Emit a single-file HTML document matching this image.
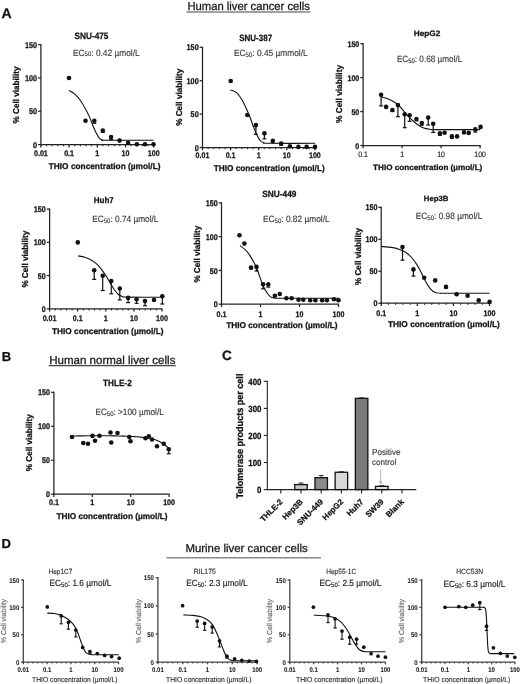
<!DOCTYPE html>
<html><head><meta charset="utf-8"><style>
html,body{margin:0;padding:0;background:#fff;}
svg{display:block;font-family:"Liberation Sans", sans-serif;filter:grayscale(1) blur(0.3px);text-rendering:geometricPrecision;}
</style></head><body>
<svg width="520" height="684" viewBox="0 0 520 684">
<rect width="520" height="684" fill="#fff"/>
<text x="187.40" y="9.80" font-size="11.56" fill="#1a1a1a" stroke="#1a1a1a" stroke-width="0.3" textLength="122.60" lengthAdjust="spacingAndGlyphs">Human liver cancer cells</text>
<line x1="186.50" y1="12.00" x2="310.50" y2="12.00" stroke="#444" stroke-width="1.2"/>
<text x="1.40" y="18.30" font-size="14" fill="#111" stroke="#111" stroke-width="0.25" font-weight="bold">A</text>
<line x1="40.90" y1="43.98" x2="40.90" y2="145.22" stroke="#222" stroke-width="1.25"/>
<line x1="40.27" y1="144.60" x2="154.20" y2="144.60" stroke="#222" stroke-width="1.25"/>
<line x1="38.10" y1="144.60" x2="40.90" y2="144.60" stroke="#222" stroke-width="1.25"/>
<text x="37.10" y="147.79" font-size="8.36" fill="#111" stroke="#111" stroke-width="0.25" font-weight="bold" text-anchor="end" textLength="4.06" lengthAdjust="spacingAndGlyphs">0</text>
<line x1="38.10" y1="111.27" x2="40.90" y2="111.27" stroke="#222" stroke-width="1.25"/>
<text x="37.10" y="114.46" font-size="8.36" fill="#111" stroke="#111" stroke-width="0.25" font-weight="bold" text-anchor="end" textLength="8.12" lengthAdjust="spacingAndGlyphs">50</text>
<line x1="38.10" y1="77.93" x2="40.90" y2="77.93" stroke="#222" stroke-width="1.25"/>
<text x="37.10" y="81.13" font-size="8.36" fill="#111" stroke="#111" stroke-width="0.25" font-weight="bold" text-anchor="end" textLength="12.17" lengthAdjust="spacingAndGlyphs">100</text>
<line x1="38.10" y1="44.60" x2="40.90" y2="44.60" stroke="#222" stroke-width="1.25"/>
<text x="37.10" y="47.79" font-size="8.36" fill="#111" stroke="#111" stroke-width="0.25" font-weight="bold" text-anchor="end" textLength="12.17" lengthAdjust="spacingAndGlyphs">150</text>
<line x1="40.90" y1="144.60" x2="40.90" y2="147.40" stroke="#222" stroke-width="1.25"/>
<text x="40.90" y="156.00" font-size="8.14" fill="#111" stroke="#111" stroke-width="0.25" font-weight="bold" text-anchor="middle" textLength="13.83" lengthAdjust="spacingAndGlyphs">0.01</text>
<line x1="46.54" y1="144.60" x2="46.54" y2="146.28" stroke="#222" stroke-width="1.0"/>
<line x1="52.18" y1="144.60" x2="52.18" y2="146.28" stroke="#222" stroke-width="1.0"/>
<line x1="57.82" y1="144.60" x2="57.82" y2="146.28" stroke="#222" stroke-width="1.0"/>
<line x1="63.46" y1="144.60" x2="63.46" y2="146.28" stroke="#222" stroke-width="1.0"/>
<line x1="69.10" y1="144.60" x2="69.10" y2="147.40" stroke="#222" stroke-width="1.25"/>
<text x="69.10" y="156.00" font-size="8.14" fill="#111" stroke="#111" stroke-width="0.25" font-weight="bold" text-anchor="middle" textLength="9.88" lengthAdjust="spacingAndGlyphs">0.1</text>
<line x1="74.74" y1="144.60" x2="74.74" y2="146.28" stroke="#222" stroke-width="1.0"/>
<line x1="80.38" y1="144.60" x2="80.38" y2="146.28" stroke="#222" stroke-width="1.0"/>
<line x1="86.02" y1="144.60" x2="86.02" y2="146.28" stroke="#222" stroke-width="1.0"/>
<line x1="91.66" y1="144.60" x2="91.66" y2="146.28" stroke="#222" stroke-width="1.0"/>
<line x1="97.30" y1="144.60" x2="97.30" y2="147.40" stroke="#222" stroke-width="1.25"/>
<text x="97.30" y="156.00" font-size="8.14" fill="#111" stroke="#111" stroke-width="0.25" font-weight="bold" text-anchor="middle" textLength="3.95" lengthAdjust="spacingAndGlyphs">1</text>
<line x1="102.94" y1="144.60" x2="102.94" y2="146.28" stroke="#222" stroke-width="1.0"/>
<line x1="108.58" y1="144.60" x2="108.58" y2="146.28" stroke="#222" stroke-width="1.0"/>
<line x1="114.22" y1="144.60" x2="114.22" y2="146.28" stroke="#222" stroke-width="1.0"/>
<line x1="119.86" y1="144.60" x2="119.86" y2="146.28" stroke="#222" stroke-width="1.0"/>
<line x1="125.50" y1="144.60" x2="125.50" y2="147.40" stroke="#222" stroke-width="1.25"/>
<text x="125.50" y="156.00" font-size="8.14" fill="#111" stroke="#111" stroke-width="0.25" font-weight="bold" text-anchor="middle" textLength="7.90" lengthAdjust="spacingAndGlyphs">10</text>
<line x1="131.14" y1="144.60" x2="131.14" y2="146.28" stroke="#222" stroke-width="1.0"/>
<line x1="136.78" y1="144.60" x2="136.78" y2="146.28" stroke="#222" stroke-width="1.0"/>
<line x1="142.42" y1="144.60" x2="142.42" y2="146.28" stroke="#222" stroke-width="1.0"/>
<line x1="148.06" y1="144.60" x2="148.06" y2="146.28" stroke="#222" stroke-width="1.0"/>
<line x1="153.70" y1="144.60" x2="153.70" y2="147.40" stroke="#222" stroke-width="1.25"/>
<text x="153.70" y="156.00" font-size="8.14" fill="#111" stroke="#111" stroke-width="0.25" font-weight="bold" text-anchor="middle" textLength="11.85" lengthAdjust="spacingAndGlyphs">100</text>
<text x="74.50" y="38.80" font-size="9.2" fill="#111" stroke="#111" stroke-width="0.25" font-weight="bold" textLength="33.90" lengthAdjust="spacingAndGlyphs">SNU-475</text>
<text x="73.00" y="55.50" font-size="9.1" fill="#3a3a3a" stroke="#3a3a3a" stroke-width="0.15" textLength="66.60" lengthAdjust="spacingAndGlyphs">EC<tspan font-size="6.55" dy="0.94">50</tspan><tspan dy="-0.94">: 0.42 µmol/L</tspan></text>
<text x="19.50" y="123.40" font-size="8.56" fill="#111" stroke="#111" stroke-width="0.25" font-weight="bold" textLength="56.80" lengthAdjust="spacingAndGlyphs" transform="rotate(-90 19.50 123.40)">% Cell viability</text>
<text x="48.75" y="169.25" font-size="8.45" fill="#111" stroke="#111" stroke-width="0.25" font-weight="bold" textLength="111.75" lengthAdjust="spacingAndGlyphs">THIO concentration (µmol/L)</text>
<path d="M68.90,90.40 C69.88,91.03 72.92,92.57 74.80,94.20 C76.68,95.83 78.42,97.73 80.20,100.20 C81.98,102.67 83.93,106.18 85.50,109.00 C87.07,111.82 88.37,114.30 89.60,117.10 C90.83,119.90 91.78,123.12 92.90,125.80 C94.02,128.48 95.17,131.07 96.30,133.20 C97.43,135.33 98.58,137.43 99.70,138.60 C100.82,139.77 101.95,139.92 103.00,140.20 C104.05,140.48 97.57,140.28 106.00,140.30 C114.43,140.32 145.67,140.30 153.60,140.30" fill="none" stroke="#111" stroke-width="1.1"/>
<circle cx="69.00" cy="78.00" r="2.3" fill="#111"/>
<circle cx="85.50" cy="120.70" r="2.3" fill="#111"/>
<line x1="94.30" y1="120.70" x2="94.30" y2="123.30" stroke="#111" stroke-width="1.2"/>
<line x1="92.30" y1="123.30" x2="96.30" y2="123.30" stroke="#111" stroke-width="1.2"/>
<circle cx="94.30" cy="120.70" r="2.3" fill="#111"/>
<line x1="102.80" y1="130.50" x2="102.80" y2="132.30" stroke="#111" stroke-width="1.2"/>
<line x1="100.80" y1="132.30" x2="104.80" y2="132.30" stroke="#111" stroke-width="1.2"/>
<circle cx="102.80" cy="130.50" r="2.3" fill="#111"/>
<line x1="111.10" y1="137.00" x2="111.10" y2="139.50" stroke="#111" stroke-width="1.2"/>
<line x1="109.10" y1="139.50" x2="113.10" y2="139.50" stroke="#111" stroke-width="1.2"/>
<circle cx="111.10" cy="137.00" r="2.3" fill="#111"/>
<circle cx="119.50" cy="140.60" r="2.3" fill="#111"/>
<line x1="128.10" y1="142.90" x2="128.10" y2="144.20" stroke="#111" stroke-width="1.2"/>
<line x1="126.10" y1="144.20" x2="130.10" y2="144.20" stroke="#111" stroke-width="1.2"/>
<circle cx="128.10" cy="142.90" r="2.3" fill="#111"/>
<circle cx="136.80" cy="144.30" r="2.3" fill="#111"/>
<circle cx="145.00" cy="144.30" r="2.3" fill="#111"/>
<circle cx="153.50" cy="144.30" r="2.3" fill="#111"/>
<line x1="202.50" y1="46.67" x2="202.50" y2="148.12" stroke="#222" stroke-width="1.25"/>
<line x1="201.88" y1="147.50" x2="315.40" y2="147.50" stroke="#222" stroke-width="1.25"/>
<line x1="199.70" y1="147.50" x2="202.50" y2="147.50" stroke="#222" stroke-width="1.25"/>
<text x="198.70" y="150.69" font-size="8.36" fill="#111" stroke="#111" stroke-width="0.25" font-weight="bold" text-anchor="end" textLength="4.06" lengthAdjust="spacingAndGlyphs">0</text>
<line x1="199.70" y1="114.10" x2="202.50" y2="114.10" stroke="#222" stroke-width="1.25"/>
<text x="198.70" y="117.29" font-size="8.36" fill="#111" stroke="#111" stroke-width="0.25" font-weight="bold" text-anchor="end" textLength="8.12" lengthAdjust="spacingAndGlyphs">50</text>
<line x1="199.70" y1="80.70" x2="202.50" y2="80.70" stroke="#222" stroke-width="1.25"/>
<text x="198.70" y="83.89" font-size="8.36" fill="#111" stroke="#111" stroke-width="0.25" font-weight="bold" text-anchor="end" textLength="12.17" lengthAdjust="spacingAndGlyphs">100</text>
<line x1="199.70" y1="47.30" x2="202.50" y2="47.30" stroke="#222" stroke-width="1.25"/>
<text x="198.70" y="50.49" font-size="8.36" fill="#111" stroke="#111" stroke-width="0.25" font-weight="bold" text-anchor="end" textLength="12.17" lengthAdjust="spacingAndGlyphs">150</text>
<line x1="202.50" y1="147.50" x2="202.50" y2="150.30" stroke="#222" stroke-width="1.25"/>
<text x="202.50" y="158.40" font-size="8.14" fill="#111" stroke="#111" stroke-width="0.25" font-weight="bold" text-anchor="middle" textLength="13.83" lengthAdjust="spacingAndGlyphs">0.01</text>
<line x1="208.12" y1="147.50" x2="208.12" y2="149.18" stroke="#222" stroke-width="1.0"/>
<line x1="213.74" y1="147.50" x2="213.74" y2="149.18" stroke="#222" stroke-width="1.0"/>
<line x1="219.36" y1="147.50" x2="219.36" y2="149.18" stroke="#222" stroke-width="1.0"/>
<line x1="224.98" y1="147.50" x2="224.98" y2="149.18" stroke="#222" stroke-width="1.0"/>
<line x1="230.60" y1="147.50" x2="230.60" y2="150.30" stroke="#222" stroke-width="1.25"/>
<text x="230.60" y="158.40" font-size="8.14" fill="#111" stroke="#111" stroke-width="0.25" font-weight="bold" text-anchor="middle" textLength="9.88" lengthAdjust="spacingAndGlyphs">0.1</text>
<line x1="236.22" y1="147.50" x2="236.22" y2="149.18" stroke="#222" stroke-width="1.0"/>
<line x1="241.84" y1="147.50" x2="241.84" y2="149.18" stroke="#222" stroke-width="1.0"/>
<line x1="247.46" y1="147.50" x2="247.46" y2="149.18" stroke="#222" stroke-width="1.0"/>
<line x1="253.08" y1="147.50" x2="253.08" y2="149.18" stroke="#222" stroke-width="1.0"/>
<line x1="258.70" y1="147.50" x2="258.70" y2="150.30" stroke="#222" stroke-width="1.25"/>
<text x="258.70" y="158.40" font-size="8.14" fill="#111" stroke="#111" stroke-width="0.25" font-weight="bold" text-anchor="middle" textLength="3.95" lengthAdjust="spacingAndGlyphs">1</text>
<line x1="264.32" y1="147.50" x2="264.32" y2="149.18" stroke="#222" stroke-width="1.0"/>
<line x1="269.94" y1="147.50" x2="269.94" y2="149.18" stroke="#222" stroke-width="1.0"/>
<line x1="275.56" y1="147.50" x2="275.56" y2="149.18" stroke="#222" stroke-width="1.0"/>
<line x1="281.18" y1="147.50" x2="281.18" y2="149.18" stroke="#222" stroke-width="1.0"/>
<line x1="286.80" y1="147.50" x2="286.80" y2="150.30" stroke="#222" stroke-width="1.25"/>
<text x="286.80" y="158.40" font-size="8.14" fill="#111" stroke="#111" stroke-width="0.25" font-weight="bold" text-anchor="middle" textLength="7.90" lengthAdjust="spacingAndGlyphs">10</text>
<line x1="292.42" y1="147.50" x2="292.42" y2="149.18" stroke="#222" stroke-width="1.0"/>
<line x1="298.04" y1="147.50" x2="298.04" y2="149.18" stroke="#222" stroke-width="1.0"/>
<line x1="303.66" y1="147.50" x2="303.66" y2="149.18" stroke="#222" stroke-width="1.0"/>
<line x1="309.28" y1="147.50" x2="309.28" y2="149.18" stroke="#222" stroke-width="1.0"/>
<line x1="314.90" y1="147.50" x2="314.90" y2="150.30" stroke="#222" stroke-width="1.25"/>
<text x="314.90" y="158.40" font-size="8.14" fill="#111" stroke="#111" stroke-width="0.25" font-weight="bold" text-anchor="middle" textLength="11.85" lengthAdjust="spacingAndGlyphs">100</text>
<text x="239.20" y="41.00" font-size="9.2" fill="#111" stroke="#111" stroke-width="0.25" font-weight="bold" textLength="32.90" lengthAdjust="spacingAndGlyphs">SNU-387</text>
<text x="234.00" y="56.00" font-size="9.1" fill="#3a3a3a" stroke="#3a3a3a" stroke-width="0.15" textLength="73.70" lengthAdjust="spacingAndGlyphs">EC<tspan font-size="6.55" dy="0.94">50</tspan><tspan dy="-0.94">: 0.45 µmmol/L</tspan></text>
<text x="181.60" y="125.80" font-size="8.56" fill="#111" stroke="#111" stroke-width="0.25" font-weight="bold" textLength="57.00" lengthAdjust="spacingAndGlyphs" transform="rotate(-90 181.60 125.80)">% Cell viability</text>
<text x="213.75" y="170.80" font-size="8.45" fill="#111" stroke="#111" stroke-width="0.25" font-weight="bold" textLength="110.95" lengthAdjust="spacingAndGlyphs">THIO concentration (µmol/L)</text>
<path d="M230.40,89.90 C231.47,90.38 234.83,91.08 236.80,92.80 C238.77,94.52 240.63,97.62 242.20,100.20 C243.77,102.78 244.87,105.38 246.20,108.30 C247.53,111.22 248.97,114.57 250.20,117.70 C251.43,120.83 252.47,124.18 253.60,127.10 C254.73,130.02 255.88,132.95 257.00,135.20 C258.12,137.45 259.07,139.32 260.30,140.60 C261.53,141.88 263.12,142.45 264.40,142.90 C265.68,143.35 259.53,143.23 268.00,143.30 C276.47,143.37 307.33,143.30 315.20,143.30" fill="none" stroke="#111" stroke-width="1.1"/>
<circle cx="230.70" cy="81.00" r="2.3" fill="#111"/>
<circle cx="247.30" cy="115.00" r="2.3" fill="#111"/>
<line x1="255.90" y1="125.10" x2="255.90" y2="134.30" stroke="#111" stroke-width="1.2"/>
<line x1="253.90" y1="134.30" x2="257.90" y2="134.30" stroke="#111" stroke-width="1.2"/>
<circle cx="255.90" cy="125.10" r="2.3" fill="#111"/>
<line x1="264.40" y1="133.20" x2="264.40" y2="138.80" stroke="#111" stroke-width="1.2"/>
<line x1="262.40" y1="138.80" x2="266.40" y2="138.80" stroke="#111" stroke-width="1.2"/>
<circle cx="264.40" cy="133.20" r="2.3" fill="#111"/>
<circle cx="272.80" cy="140.90" r="2.3" fill="#111"/>
<line x1="281.20" y1="143.60" x2="281.20" y2="145.30" stroke="#111" stroke-width="1.2"/>
<line x1="279.20" y1="145.30" x2="283.20" y2="145.30" stroke="#111" stroke-width="1.2"/>
<circle cx="281.20" cy="143.60" r="2.3" fill="#111"/>
<circle cx="289.90" cy="146.30" r="2.3" fill="#111"/>
<circle cx="298.40" cy="146.90" r="2.3" fill="#111"/>
<circle cx="306.60" cy="146.90" r="2.3" fill="#111"/>
<circle cx="315.00" cy="146.90" r="2.3" fill="#111"/>
<line x1="363.10" y1="43.12" x2="363.10" y2="146.12" stroke="#222" stroke-width="1.25"/>
<line x1="362.48" y1="145.50" x2="480.60" y2="145.50" stroke="#222" stroke-width="1.25"/>
<line x1="360.30" y1="145.50" x2="363.10" y2="145.50" stroke="#222" stroke-width="1.25"/>
<text x="359.30" y="148.61" font-size="8.14" fill="#111" stroke="#111" stroke-width="0.25" font-weight="bold" text-anchor="end" textLength="3.95" lengthAdjust="spacingAndGlyphs">0</text>
<line x1="360.30" y1="111.58" x2="363.10" y2="111.58" stroke="#222" stroke-width="1.25"/>
<text x="359.30" y="114.69" font-size="8.14" fill="#111" stroke="#111" stroke-width="0.25" font-weight="bold" text-anchor="end" textLength="7.90" lengthAdjust="spacingAndGlyphs">50</text>
<line x1="360.30" y1="77.67" x2="363.10" y2="77.67" stroke="#222" stroke-width="1.25"/>
<text x="359.30" y="80.77" font-size="8.14" fill="#111" stroke="#111" stroke-width="0.25" font-weight="bold" text-anchor="end" textLength="11.85" lengthAdjust="spacingAndGlyphs">100</text>
<line x1="360.30" y1="43.75" x2="363.10" y2="43.75" stroke="#222" stroke-width="1.25"/>
<text x="359.30" y="46.86" font-size="8.14" fill="#111" stroke="#111" stroke-width="0.25" font-weight="bold" text-anchor="end" textLength="11.85" lengthAdjust="spacingAndGlyphs">150</text>
<line x1="363.10" y1="145.50" x2="363.10" y2="148.30" stroke="#222" stroke-width="1.25"/>
<text x="363.10" y="157.00" font-size="7.92" fill="#111" stroke="#111" stroke-width="0.15" text-anchor="middle" textLength="9.61" lengthAdjust="spacingAndGlyphs">0.1</text>
<line x1="402.10" y1="145.50" x2="402.10" y2="148.30" stroke="#222" stroke-width="1.25"/>
<text x="402.10" y="157.00" font-size="7.92" fill="#111" stroke="#111" stroke-width="0.15" text-anchor="middle" textLength="3.84" lengthAdjust="spacingAndGlyphs">1</text>
<line x1="441.10" y1="145.50" x2="441.10" y2="148.30" stroke="#222" stroke-width="1.25"/>
<text x="441.10" y="157.00" font-size="7.92" fill="#111" stroke="#111" stroke-width="0.15" text-anchor="middle" textLength="7.69" lengthAdjust="spacingAndGlyphs">10</text>
<line x1="480.10" y1="145.50" x2="480.10" y2="148.30" stroke="#222" stroke-width="1.25"/>
<text x="480.10" y="157.00" font-size="7.92" fill="#111" stroke="#111" stroke-width="0.15" text-anchor="middle" textLength="11.53" lengthAdjust="spacingAndGlyphs">100</text>
<text x="413.80" y="35.80" font-size="7.81" fill="#111" stroke="#111" stroke-width="0.25" font-weight="bold" textLength="26.50" lengthAdjust="spacingAndGlyphs">HepG2</text>
<text x="396.90" y="61.90" font-size="9.1" fill="#3a3a3a" stroke="#3a3a3a" stroke-width="0.15" textLength="65.40" lengthAdjust="spacingAndGlyphs">EC<tspan font-size="6.55" dy="0.94">50</tspan><tspan dy="-0.94">: 0.68 µmol/L</tspan></text>
<text x="341.50" y="123.00" font-size="8.56" fill="#111" stroke="#111" stroke-width="0.25" font-weight="bold" textLength="58.00" lengthAdjust="spacingAndGlyphs" transform="rotate(-90 341.50 123.00)">% Cell viability</text>
<text x="373.10" y="170.40" font-size="7.92" fill="#111" stroke="#111" stroke-width="0.25" font-weight="bold" textLength="109.20" lengthAdjust="spacingAndGlyphs">THIO concentration (µmol/L)</text>
<path d="M381.20,96.80 C382.58,97.25 386.78,98.27 389.50,99.50 C392.22,100.73 395.27,102.42 397.50,104.20 C399.73,105.98 400.88,107.97 402.90,110.20 C404.92,112.43 407.35,115.35 409.60,117.60 C411.85,119.85 414.15,122.02 416.40,123.70 C418.65,125.38 420.87,126.77 423.10,127.70 C425.33,128.63 427.65,128.98 429.80,129.30 C431.95,129.62 427.62,129.55 436.00,129.60 C444.38,129.65 472.75,129.60 480.10,129.60" fill="none" stroke="#111" stroke-width="1.1"/>
<line x1="381.10" y1="94.70" x2="381.10" y2="105.90" stroke="#111" stroke-width="1.2"/>
<line x1="379.10" y1="105.90" x2="383.10" y2="105.90" stroke="#111" stroke-width="1.2"/>
<circle cx="381.10" cy="94.70" r="2.3" fill="#111"/>
<circle cx="386.10" cy="106.90" r="2.3" fill="#111"/>
<line x1="392.40" y1="110.00" x2="392.40" y2="111.50" stroke="#111" stroke-width="1.2"/>
<line x1="390.40" y1="111.50" x2="394.40" y2="111.50" stroke="#111" stroke-width="1.2"/>
<circle cx="392.40" cy="110.00" r="2.3" fill="#111"/>
<line x1="397.90" y1="105.10" x2="397.90" y2="116.70" stroke="#111" stroke-width="1.2"/>
<line x1="395.90" y1="116.70" x2="399.90" y2="116.70" stroke="#111" stroke-width="1.2"/>
<circle cx="397.90" cy="105.10" r="2.3" fill="#111"/>
<line x1="404.70" y1="114.30" x2="404.70" y2="127.70" stroke="#111" stroke-width="1.2"/>
<line x1="402.70" y1="127.70" x2="406.70" y2="127.70" stroke="#111" stroke-width="1.2"/>
<circle cx="404.70" cy="114.30" r="2.3" fill="#111"/>
<line x1="409.60" y1="115.30" x2="409.60" y2="121.30" stroke="#111" stroke-width="1.2"/>
<line x1="407.60" y1="121.30" x2="411.60" y2="121.30" stroke="#111" stroke-width="1.2"/>
<circle cx="409.60" cy="115.30" r="2.3" fill="#111"/>
<line x1="416.40" y1="119.00" x2="416.40" y2="120.80" stroke="#111" stroke-width="1.2"/>
<line x1="414.40" y1="120.80" x2="418.40" y2="120.80" stroke="#111" stroke-width="1.2"/>
<circle cx="416.40" cy="119.00" r="2.3" fill="#111"/>
<line x1="421.80" y1="123.00" x2="421.80" y2="125.20" stroke="#111" stroke-width="1.2"/>
<line x1="419.80" y1="125.20" x2="423.80" y2="125.20" stroke="#111" stroke-width="1.2"/>
<circle cx="421.80" cy="123.00" r="2.3" fill="#111"/>
<line x1="428.20" y1="117.60" x2="428.20" y2="125.00" stroke="#111" stroke-width="1.2"/>
<line x1="426.20" y1="125.00" x2="430.20" y2="125.00" stroke="#111" stroke-width="1.2"/>
<circle cx="428.20" cy="117.60" r="2.3" fill="#111"/>
<line x1="433.20" y1="123.70" x2="433.20" y2="132.40" stroke="#111" stroke-width="1.2"/>
<line x1="431.20" y1="132.40" x2="435.20" y2="132.40" stroke="#111" stroke-width="1.2"/>
<circle cx="433.20" cy="123.70" r="2.3" fill="#111"/>
<line x1="439.90" y1="133.40" x2="439.90" y2="135.30" stroke="#111" stroke-width="1.2"/>
<line x1="437.90" y1="135.30" x2="441.90" y2="135.30" stroke="#111" stroke-width="1.2"/>
<circle cx="439.90" cy="133.40" r="2.3" fill="#111"/>
<circle cx="444.60" cy="132.80" r="2.3" fill="#111"/>
<line x1="451.90" y1="136.40" x2="451.90" y2="138.30" stroke="#111" stroke-width="1.2"/>
<line x1="449.90" y1="138.30" x2="453.90" y2="138.30" stroke="#111" stroke-width="1.2"/>
<circle cx="451.90" cy="136.40" r="2.3" fill="#111"/>
<circle cx="457.10" cy="136.40" r="2.3" fill="#111"/>
<circle cx="464.00" cy="132.40" r="2.3" fill="#111"/>
<circle cx="468.70" cy="132.90" r="2.3" fill="#111"/>
<line x1="475.30" y1="129.40" x2="475.30" y2="132.00" stroke="#111" stroke-width="1.2"/>
<line x1="473.30" y1="132.00" x2="477.30" y2="132.00" stroke="#111" stroke-width="1.2"/>
<circle cx="475.30" cy="129.40" r="2.3" fill="#111"/>
<circle cx="480.60" cy="126.90" r="2.3" fill="#111"/>
<line x1="49.60" y1="208.47" x2="49.60" y2="309.43" stroke="#222" stroke-width="1.25"/>
<line x1="48.98" y1="308.80" x2="162.50" y2="308.80" stroke="#222" stroke-width="1.25"/>
<line x1="46.80" y1="308.80" x2="49.60" y2="308.80" stroke="#222" stroke-width="1.25"/>
<text x="45.80" y="311.95" font-size="8.25" fill="#111" stroke="#111" stroke-width="0.25" font-weight="bold" text-anchor="end" textLength="4.00" lengthAdjust="spacingAndGlyphs">0</text>
<line x1="46.80" y1="275.57" x2="49.60" y2="275.57" stroke="#222" stroke-width="1.25"/>
<text x="45.80" y="278.72" font-size="8.25" fill="#111" stroke="#111" stroke-width="0.25" font-weight="bold" text-anchor="end" textLength="8.01" lengthAdjust="spacingAndGlyphs">50</text>
<line x1="46.80" y1="242.33" x2="49.60" y2="242.33" stroke="#222" stroke-width="1.25"/>
<text x="45.80" y="245.48" font-size="8.25" fill="#111" stroke="#111" stroke-width="0.25" font-weight="bold" text-anchor="end" textLength="12.01" lengthAdjust="spacingAndGlyphs">100</text>
<line x1="46.80" y1="209.10" x2="49.60" y2="209.10" stroke="#222" stroke-width="1.25"/>
<text x="45.80" y="212.25" font-size="8.25" fill="#111" stroke="#111" stroke-width="0.25" font-weight="bold" text-anchor="end" textLength="12.01" lengthAdjust="spacingAndGlyphs">150</text>
<line x1="49.60" y1="308.80" x2="49.60" y2="311.60" stroke="#222" stroke-width="1.25"/>
<text x="49.60" y="320.50" font-size="8.14" fill="#111" stroke="#111" stroke-width="0.25" font-weight="bold" text-anchor="middle" textLength="13.83" lengthAdjust="spacingAndGlyphs">0.01</text>
<line x1="55.22" y1="308.80" x2="55.22" y2="310.48" stroke="#222" stroke-width="1.0"/>
<line x1="60.84" y1="308.80" x2="60.84" y2="310.48" stroke="#222" stroke-width="1.0"/>
<line x1="66.46" y1="308.80" x2="66.46" y2="310.48" stroke="#222" stroke-width="1.0"/>
<line x1="72.08" y1="308.80" x2="72.08" y2="310.48" stroke="#222" stroke-width="1.0"/>
<line x1="77.70" y1="308.80" x2="77.70" y2="311.60" stroke="#222" stroke-width="1.25"/>
<text x="77.70" y="320.50" font-size="8.14" fill="#111" stroke="#111" stroke-width="0.25" font-weight="bold" text-anchor="middle" textLength="9.88" lengthAdjust="spacingAndGlyphs">0.1</text>
<line x1="83.32" y1="308.80" x2="83.32" y2="310.48" stroke="#222" stroke-width="1.0"/>
<line x1="88.94" y1="308.80" x2="88.94" y2="310.48" stroke="#222" stroke-width="1.0"/>
<line x1="94.56" y1="308.80" x2="94.56" y2="310.48" stroke="#222" stroke-width="1.0"/>
<line x1="100.18" y1="308.80" x2="100.18" y2="310.48" stroke="#222" stroke-width="1.0"/>
<line x1="105.80" y1="308.80" x2="105.80" y2="311.60" stroke="#222" stroke-width="1.25"/>
<text x="105.80" y="320.50" font-size="8.14" fill="#111" stroke="#111" stroke-width="0.25" font-weight="bold" text-anchor="middle" textLength="3.95" lengthAdjust="spacingAndGlyphs">1</text>
<line x1="111.42" y1="308.80" x2="111.42" y2="310.48" stroke="#222" stroke-width="1.0"/>
<line x1="117.04" y1="308.80" x2="117.04" y2="310.48" stroke="#222" stroke-width="1.0"/>
<line x1="122.66" y1="308.80" x2="122.66" y2="310.48" stroke="#222" stroke-width="1.0"/>
<line x1="128.28" y1="308.80" x2="128.28" y2="310.48" stroke="#222" stroke-width="1.0"/>
<line x1="133.90" y1="308.80" x2="133.90" y2="311.60" stroke="#222" stroke-width="1.25"/>
<text x="133.90" y="320.50" font-size="8.14" fill="#111" stroke="#111" stroke-width="0.25" font-weight="bold" text-anchor="middle" textLength="7.90" lengthAdjust="spacingAndGlyphs">10</text>
<line x1="139.52" y1="308.80" x2="139.52" y2="310.48" stroke="#222" stroke-width="1.0"/>
<line x1="145.14" y1="308.80" x2="145.14" y2="310.48" stroke="#222" stroke-width="1.0"/>
<line x1="150.76" y1="308.80" x2="150.76" y2="310.48" stroke="#222" stroke-width="1.0"/>
<line x1="156.38" y1="308.80" x2="156.38" y2="310.48" stroke="#222" stroke-width="1.0"/>
<line x1="162.00" y1="308.80" x2="162.00" y2="311.60" stroke="#222" stroke-width="1.25"/>
<text x="162.00" y="320.50" font-size="8.14" fill="#111" stroke="#111" stroke-width="0.25" font-weight="bold" text-anchor="middle" textLength="11.85" lengthAdjust="spacingAndGlyphs">100</text>
<text x="93.80" y="202.60" font-size="8.56" fill="#111" stroke="#111" stroke-width="0.25" font-weight="bold" textLength="20.00" lengthAdjust="spacingAndGlyphs">Huh7</text>
<text x="92.20" y="222.30" font-size="9.1" fill="#3a3a3a" stroke="#3a3a3a" stroke-width="0.15" textLength="66.30" lengthAdjust="spacingAndGlyphs">EC<tspan font-size="6.55" dy="0.94">50</tspan><tspan dy="-0.94">: 0.74 µmol/L</tspan></text>
<text x="28.40" y="287.60" font-size="8.56" fill="#111" stroke="#111" stroke-width="0.25" font-weight="bold" textLength="56.80" lengthAdjust="spacingAndGlyphs" transform="rotate(-90 28.40 287.60)">% Cell viability</text>
<text x="52.00" y="333.50" font-size="8.45" fill="#111" stroke="#111" stroke-width="0.25" font-weight="bold" textLength="111.50" lengthAdjust="spacingAndGlyphs">THIO concentration (µmol/L)</text>
<path d="M78.00,255.90 C79.13,256.12 82.55,256.48 84.80,257.20 C87.05,257.92 89.48,259.03 91.50,260.20 C93.52,261.37 95.22,262.63 96.90,264.20 C98.58,265.77 100.03,267.58 101.60,269.60 C103.17,271.62 104.85,274.05 106.30,276.30 C107.75,278.55 108.95,280.85 110.30,283.10 C111.65,285.35 113.05,287.90 114.40,289.80 C115.75,291.70 117.05,293.38 118.40,294.50 C119.75,295.62 121.07,296.07 122.50,296.50 C123.93,296.93 120.42,296.98 127.00,297.10 C133.58,297.22 156.17,297.18 162.00,297.20" fill="none" stroke="#111" stroke-width="1.1"/>
<circle cx="77.80" cy="242.40" r="2.3" fill="#111"/>
<line x1="94.20" y1="270.30" x2="94.20" y2="279.40" stroke="#111" stroke-width="1.2"/>
<line x1="92.20" y1="279.40" x2="96.20" y2="279.40" stroke="#111" stroke-width="1.2"/>
<circle cx="94.20" cy="270.30" r="2.3" fill="#111"/>
<line x1="102.70" y1="275.70" x2="102.70" y2="290.50" stroke="#111" stroke-width="1.2"/>
<line x1="100.70" y1="290.50" x2="104.70" y2="290.50" stroke="#111" stroke-width="1.2"/>
<circle cx="102.70" cy="275.70" r="2.3" fill="#111"/>
<line x1="111.30" y1="281.00" x2="111.30" y2="293.80" stroke="#111" stroke-width="1.2"/>
<line x1="109.30" y1="293.80" x2="113.30" y2="293.80" stroke="#111" stroke-width="1.2"/>
<circle cx="111.30" cy="281.00" r="2.3" fill="#111"/>
<line x1="119.80" y1="288.50" x2="119.80" y2="299.90" stroke="#111" stroke-width="1.2"/>
<line x1="117.80" y1="299.90" x2="121.80" y2="299.90" stroke="#111" stroke-width="1.2"/>
<circle cx="119.80" cy="288.50" r="2.3" fill="#111"/>
<line x1="128.10" y1="297.90" x2="128.10" y2="302.60" stroke="#111" stroke-width="1.2"/>
<line x1="126.10" y1="302.60" x2="130.10" y2="302.60" stroke="#111" stroke-width="1.2"/>
<circle cx="128.10" cy="297.90" r="2.3" fill="#111"/>
<line x1="136.60" y1="299.20" x2="136.60" y2="303.30" stroke="#111" stroke-width="1.2"/>
<line x1="134.60" y1="303.30" x2="138.60" y2="303.30" stroke="#111" stroke-width="1.2"/>
<circle cx="136.60" cy="299.20" r="2.3" fill="#111"/>
<line x1="145.00" y1="301.10" x2="145.00" y2="305.70" stroke="#111" stroke-width="1.2"/>
<line x1="143.00" y1="305.70" x2="147.00" y2="305.70" stroke="#111" stroke-width="1.2"/>
<circle cx="145.00" cy="301.10" r="2.3" fill="#111"/>
<circle cx="154.00" cy="300.00" r="2.3" fill="#111"/>
<line x1="162.30" y1="296.20" x2="162.30" y2="304.00" stroke="#111" stroke-width="1.2"/>
<line x1="160.30" y1="304.00" x2="164.30" y2="304.00" stroke="#111" stroke-width="1.2"/>
<circle cx="162.30" cy="296.20" r="2.3" fill="#111"/>
<line x1="221.50" y1="202.28" x2="221.50" y2="304.82" stroke="#222" stroke-width="1.25"/>
<line x1="220.88" y1="304.20" x2="339.00" y2="304.20" stroke="#222" stroke-width="1.25"/>
<line x1="218.70" y1="304.20" x2="221.50" y2="304.20" stroke="#222" stroke-width="1.25"/>
<text x="217.70" y="307.35" font-size="8.25" fill="#111" stroke="#111" stroke-width="0.25" font-weight="bold" text-anchor="end" textLength="4.00" lengthAdjust="spacingAndGlyphs">0</text>
<line x1="218.70" y1="270.43" x2="221.50" y2="270.43" stroke="#222" stroke-width="1.25"/>
<text x="217.70" y="273.58" font-size="8.25" fill="#111" stroke="#111" stroke-width="0.25" font-weight="bold" text-anchor="end" textLength="8.01" lengthAdjust="spacingAndGlyphs">50</text>
<line x1="218.70" y1="236.67" x2="221.50" y2="236.67" stroke="#222" stroke-width="1.25"/>
<text x="217.70" y="239.82" font-size="8.25" fill="#111" stroke="#111" stroke-width="0.25" font-weight="bold" text-anchor="end" textLength="12.01" lengthAdjust="spacingAndGlyphs">100</text>
<line x1="218.70" y1="202.90" x2="221.50" y2="202.90" stroke="#222" stroke-width="1.25"/>
<text x="217.70" y="206.05" font-size="8.25" fill="#111" stroke="#111" stroke-width="0.25" font-weight="bold" text-anchor="end" textLength="12.01" lengthAdjust="spacingAndGlyphs">150</text>
<line x1="221.50" y1="304.20" x2="221.50" y2="307.00" stroke="#222" stroke-width="1.25"/>
<text x="221.50" y="316.60" font-size="8.14" fill="#111" stroke="#111" stroke-width="0.25" font-weight="bold" text-anchor="middle" textLength="9.88" lengthAdjust="spacingAndGlyphs">0.1</text>
<line x1="260.50" y1="304.20" x2="260.50" y2="307.00" stroke="#222" stroke-width="1.25"/>
<text x="260.50" y="316.60" font-size="8.14" fill="#111" stroke="#111" stroke-width="0.25" font-weight="bold" text-anchor="middle" textLength="3.95" lengthAdjust="spacingAndGlyphs">1</text>
<line x1="299.50" y1="304.20" x2="299.50" y2="307.00" stroke="#222" stroke-width="1.25"/>
<text x="299.50" y="316.60" font-size="8.14" fill="#111" stroke="#111" stroke-width="0.25" font-weight="bold" text-anchor="middle" textLength="7.90" lengthAdjust="spacingAndGlyphs">10</text>
<line x1="338.50" y1="304.20" x2="338.50" y2="307.00" stroke="#222" stroke-width="1.25"/>
<text x="338.50" y="316.60" font-size="8.14" fill="#111" stroke="#111" stroke-width="0.25" font-weight="bold" text-anchor="middle" textLength="11.85" lengthAdjust="spacingAndGlyphs">100</text>
<text x="262.20" y="196.50" font-size="8.99" fill="#111" stroke="#111" stroke-width="0.25" font-weight="bold" textLength="34.20" lengthAdjust="spacingAndGlyphs">SNU-449</text>
<text x="263.00" y="222.40" font-size="9.1" fill="#3a3a3a" stroke="#3a3a3a" stroke-width="0.15" textLength="66.60" lengthAdjust="spacingAndGlyphs">EC<tspan font-size="6.55" dy="0.94">50</tspan><tspan dy="-0.94">: 0.82 µmol/L</tspan></text>
<text x="199.60" y="282.60" font-size="8.56" fill="#111" stroke="#111" stroke-width="0.25" font-weight="bold" textLength="56.80" lengthAdjust="spacingAndGlyphs" transform="rotate(-90 199.60 282.60)">% Cell viability</text>
<text x="226.25" y="328.10" font-size="8.45" fill="#111" stroke="#111" stroke-width="0.25" font-weight="bold" textLength="111.25" lengthAdjust="spacingAndGlyphs">THIO concentration (µmol/L)</text>
<path d="M240.00,245.60 C240.87,246.27 243.57,247.97 245.20,249.60 C246.83,251.23 248.25,253.08 249.80,255.40 C251.35,257.72 253.15,260.82 254.50,263.50 C255.85,266.18 256.85,268.82 257.90,271.50 C258.95,274.18 259.83,277.00 260.80,279.60 C261.77,282.20 262.65,284.88 263.70,287.10 C264.75,289.32 265.95,291.27 267.10,292.90 C268.25,294.53 269.25,296.05 270.60,296.90 C271.95,297.75 273.63,297.77 275.20,298.00 C276.77,298.23 269.30,298.25 280.00,298.30 C290.70,298.35 329.50,298.30 339.40,298.30" fill="none" stroke="#111" stroke-width="1.1"/>
<circle cx="239.50" cy="235.20" r="2.3" fill="#111"/>
<circle cx="244.40" cy="243.60" r="2.3" fill="#111"/>
<line x1="251.00" y1="267.50" x2="251.00" y2="269.00" stroke="#111" stroke-width="1.2"/>
<line x1="249.00" y1="269.00" x2="253.00" y2="269.00" stroke="#111" stroke-width="1.2"/>
<circle cx="251.00" cy="267.50" r="2.3" fill="#111"/>
<line x1="256.50" y1="266.90" x2="256.50" y2="271.00" stroke="#111" stroke-width="1.2"/>
<line x1="254.50" y1="271.00" x2="258.50" y2="271.00" stroke="#111" stroke-width="1.2"/>
<circle cx="256.50" cy="266.90" r="2.3" fill="#111"/>
<line x1="263.10" y1="284.20" x2="263.10" y2="288.80" stroke="#111" stroke-width="1.2"/>
<line x1="261.10" y1="288.80" x2="265.10" y2="288.80" stroke="#111" stroke-width="1.2"/>
<circle cx="263.10" cy="284.20" r="2.3" fill="#111"/>
<line x1="268.30" y1="284.20" x2="268.30" y2="287.10" stroke="#111" stroke-width="1.2"/>
<line x1="266.30" y1="287.10" x2="270.30" y2="287.10" stroke="#111" stroke-width="1.2"/>
<circle cx="268.30" cy="284.20" r="2.3" fill="#111"/>
<circle cx="274.90" cy="295.70" r="2.3" fill="#111"/>
<circle cx="279.80" cy="294.00" r="2.3" fill="#111"/>
<circle cx="286.40" cy="298.30" r="2.3" fill="#111"/>
<circle cx="291.60" cy="298.30" r="2.3" fill="#111"/>
<circle cx="298.50" cy="299.80" r="2.3" fill="#111"/>
<circle cx="303.30" cy="299.80" r="2.3" fill="#111"/>
<circle cx="310.20" cy="300.20" r="2.3" fill="#111"/>
<circle cx="315.40" cy="300.20" r="2.3" fill="#111"/>
<circle cx="322.10" cy="300.20" r="2.3" fill="#111"/>
<circle cx="326.90" cy="300.20" r="2.3" fill="#111"/>
<circle cx="334.00" cy="299.20" r="2.3" fill="#111"/>
<circle cx="338.50" cy="300.20" r="2.3" fill="#111"/>
<line x1="381.20" y1="206.68" x2="381.20" y2="303.82" stroke="#222" stroke-width="1.25"/>
<line x1="380.57" y1="303.20" x2="490.00" y2="303.20" stroke="#222" stroke-width="1.25"/>
<line x1="378.40" y1="303.20" x2="381.20" y2="303.20" stroke="#222" stroke-width="1.25"/>
<text x="377.40" y="306.35" font-size="8.25" fill="#111" stroke="#111" stroke-width="0.25" font-weight="bold" text-anchor="end" textLength="4.00" lengthAdjust="spacingAndGlyphs">0</text>
<line x1="378.40" y1="271.23" x2="381.20" y2="271.23" stroke="#222" stroke-width="1.25"/>
<text x="377.40" y="274.38" font-size="8.25" fill="#111" stroke="#111" stroke-width="0.25" font-weight="bold" text-anchor="end" textLength="8.01" lengthAdjust="spacingAndGlyphs">50</text>
<line x1="378.40" y1="239.27" x2="381.20" y2="239.27" stroke="#222" stroke-width="1.25"/>
<text x="377.40" y="242.42" font-size="8.25" fill="#111" stroke="#111" stroke-width="0.25" font-weight="bold" text-anchor="end" textLength="12.01" lengthAdjust="spacingAndGlyphs">100</text>
<line x1="378.40" y1="207.30" x2="381.20" y2="207.30" stroke="#222" stroke-width="1.25"/>
<text x="377.40" y="210.45" font-size="8.25" fill="#111" stroke="#111" stroke-width="0.25" font-weight="bold" text-anchor="end" textLength="12.01" lengthAdjust="spacingAndGlyphs">150</text>
<line x1="381.20" y1="303.20" x2="381.20" y2="306.00" stroke="#222" stroke-width="1.25"/>
<text x="381.20" y="315.50" font-size="8.14" fill="#111" stroke="#111" stroke-width="0.25" font-weight="bold" text-anchor="middle" textLength="9.88" lengthAdjust="spacingAndGlyphs">0.1</text>
<line x1="388.42" y1="303.20" x2="388.42" y2="304.88" stroke="#222" stroke-width="1.0"/>
<line x1="395.64" y1="303.20" x2="395.64" y2="304.88" stroke="#222" stroke-width="1.0"/>
<line x1="402.86" y1="303.20" x2="402.86" y2="304.88" stroke="#222" stroke-width="1.0"/>
<line x1="410.08" y1="303.20" x2="410.08" y2="304.88" stroke="#222" stroke-width="1.0"/>
<line x1="417.30" y1="303.20" x2="417.30" y2="306.00" stroke="#222" stroke-width="1.25"/>
<text x="417.30" y="315.50" font-size="8.14" fill="#111" stroke="#111" stroke-width="0.25" font-weight="bold" text-anchor="middle" textLength="3.95" lengthAdjust="spacingAndGlyphs">1</text>
<line x1="424.52" y1="303.20" x2="424.52" y2="304.88" stroke="#222" stroke-width="1.0"/>
<line x1="431.74" y1="303.20" x2="431.74" y2="304.88" stroke="#222" stroke-width="1.0"/>
<line x1="438.96" y1="303.20" x2="438.96" y2="304.88" stroke="#222" stroke-width="1.0"/>
<line x1="446.18" y1="303.20" x2="446.18" y2="304.88" stroke="#222" stroke-width="1.0"/>
<line x1="453.40" y1="303.20" x2="453.40" y2="306.00" stroke="#222" stroke-width="1.25"/>
<text x="453.40" y="315.50" font-size="8.14" fill="#111" stroke="#111" stroke-width="0.25" font-weight="bold" text-anchor="middle" textLength="7.90" lengthAdjust="spacingAndGlyphs">10</text>
<line x1="460.62" y1="303.20" x2="460.62" y2="304.88" stroke="#222" stroke-width="1.0"/>
<line x1="467.84" y1="303.20" x2="467.84" y2="304.88" stroke="#222" stroke-width="1.0"/>
<line x1="475.06" y1="303.20" x2="475.06" y2="304.88" stroke="#222" stroke-width="1.0"/>
<line x1="482.28" y1="303.20" x2="482.28" y2="304.88" stroke="#222" stroke-width="1.0"/>
<line x1="489.50" y1="303.20" x2="489.50" y2="306.00" stroke="#222" stroke-width="1.25"/>
<text x="489.50" y="315.50" font-size="8.14" fill="#111" stroke="#111" stroke-width="0.25" font-weight="bold" text-anchor="middle" textLength="11.85" lengthAdjust="spacingAndGlyphs">100</text>
<text x="423.80" y="201.00" font-size="7.49" fill="#111" stroke="#111" stroke-width="0.25" font-weight="bold" textLength="24.50" lengthAdjust="spacingAndGlyphs">Hep3B</text>
<text x="415.80" y="219.20" font-size="9.1" fill="#3a3a3a" stroke="#3a3a3a" stroke-width="0.15" textLength="66.50" lengthAdjust="spacingAndGlyphs">EC<tspan font-size="6.55" dy="0.94">50</tspan><tspan dy="-0.94">: 0.98 µmol/L</tspan></text>
<text x="361.30" y="285.00" font-size="8.56" fill="#111" stroke="#111" stroke-width="0.25" font-weight="bold" textLength="57.00" lengthAdjust="spacingAndGlyphs" transform="rotate(-90 361.30 285.00)">% Cell viability</text>
<text x="388.00" y="327.30" font-size="8.45" fill="#111" stroke="#111" stroke-width="0.25" font-weight="bold" textLength="111.80" lengthAdjust="spacingAndGlyphs">THIO concentration (µmol/L)</text>
<path d="M381.20,246.50 C382.92,246.65 388.45,246.90 391.50,247.40 C394.55,247.90 397.03,248.60 399.50,249.50 C401.97,250.40 404.28,251.47 406.30,252.80 C408.32,254.13 409.82,255.48 411.60,257.50 C413.38,259.52 415.42,262.43 417.00,264.90 C418.58,267.37 419.75,269.72 421.10,272.30 C422.45,274.88 423.77,277.93 425.10,280.40 C426.43,282.87 427.75,285.25 429.10,287.10 C430.45,288.95 431.62,290.48 433.20,291.50 C434.78,292.52 436.80,292.90 438.60,293.20 C440.40,293.50 435.52,293.28 444.00,293.30 C452.48,293.32 481.92,293.30 489.50,293.30" fill="none" stroke="#111" stroke-width="1.1"/>
<line x1="402.50" y1="247.00" x2="402.50" y2="260.20" stroke="#111" stroke-width="1.2"/>
<line x1="400.50" y1="260.20" x2="404.50" y2="260.20" stroke="#111" stroke-width="1.2"/>
<circle cx="402.50" cy="247.00" r="2.3" fill="#111"/>
<line x1="413.40" y1="269.40" x2="413.40" y2="276.10" stroke="#111" stroke-width="1.2"/>
<line x1="411.40" y1="276.10" x2="415.40" y2="276.10" stroke="#111" stroke-width="1.2"/>
<circle cx="413.40" cy="269.40" r="2.3" fill="#111"/>
<circle cx="424.20" cy="277.70" r="2.3" fill="#111"/>
<circle cx="435.20" cy="280.40" r="2.3" fill="#111"/>
<line x1="446.00" y1="286.90" x2="446.00" y2="287.90" stroke="#111" stroke-width="1.2"/>
<line x1="444.00" y1="287.90" x2="448.00" y2="287.90" stroke="#111" stroke-width="1.2"/>
<circle cx="446.00" cy="286.90" r="2.3" fill="#111"/>
<circle cx="456.60" cy="294.20" r="2.3" fill="#111"/>
<circle cx="467.60" cy="295.80" r="2.3" fill="#111"/>
<circle cx="478.70" cy="300.40" r="2.3" fill="#111"/>
<circle cx="489.60" cy="301.90" r="2.3" fill="#111"/>
<line x1="53.90" y1="391.68" x2="53.90" y2="494.82" stroke="#222" stroke-width="1.25"/>
<line x1="53.27" y1="494.20" x2="169.60" y2="494.20" stroke="#222" stroke-width="1.25"/>
<line x1="51.10" y1="494.20" x2="53.90" y2="494.20" stroke="#222" stroke-width="1.25"/>
<text x="50.10" y="497.35" font-size="8.25" fill="#111" stroke="#111" stroke-width="0.25" font-weight="bold" text-anchor="end" textLength="4.00" lengthAdjust="spacingAndGlyphs">0</text>
<line x1="51.10" y1="460.23" x2="53.90" y2="460.23" stroke="#222" stroke-width="1.25"/>
<text x="50.10" y="463.38" font-size="8.25" fill="#111" stroke="#111" stroke-width="0.25" font-weight="bold" text-anchor="end" textLength="8.01" lengthAdjust="spacingAndGlyphs">50</text>
<line x1="51.10" y1="426.27" x2="53.90" y2="426.27" stroke="#222" stroke-width="1.25"/>
<text x="50.10" y="429.42" font-size="8.25" fill="#111" stroke="#111" stroke-width="0.25" font-weight="bold" text-anchor="end" textLength="12.01" lengthAdjust="spacingAndGlyphs">100</text>
<line x1="51.10" y1="392.30" x2="53.90" y2="392.30" stroke="#222" stroke-width="1.25"/>
<text x="50.10" y="395.45" font-size="8.25" fill="#111" stroke="#111" stroke-width="0.25" font-weight="bold" text-anchor="end" textLength="12.01" lengthAdjust="spacingAndGlyphs">150</text>
<line x1="53.90" y1="494.20" x2="53.90" y2="497.00" stroke="#222" stroke-width="1.25"/>
<text x="53.90" y="504.80" font-size="8.14" fill="#111" stroke="#111" stroke-width="0.25" font-weight="bold" text-anchor="middle" textLength="9.88" lengthAdjust="spacingAndGlyphs">0.1</text>
<line x1="92.30" y1="494.20" x2="92.30" y2="497.00" stroke="#222" stroke-width="1.25"/>
<text x="92.30" y="504.80" font-size="8.14" fill="#111" stroke="#111" stroke-width="0.25" font-weight="bold" text-anchor="middle" textLength="3.95" lengthAdjust="spacingAndGlyphs">1</text>
<line x1="130.70" y1="494.20" x2="130.70" y2="497.00" stroke="#222" stroke-width="1.25"/>
<text x="130.70" y="504.80" font-size="8.14" fill="#111" stroke="#111" stroke-width="0.25" font-weight="bold" text-anchor="middle" textLength="7.90" lengthAdjust="spacingAndGlyphs">10</text>
<line x1="169.10" y1="494.20" x2="169.10" y2="497.00" stroke="#222" stroke-width="1.25"/>
<text x="169.10" y="504.80" font-size="8.14" fill="#111" stroke="#111" stroke-width="0.25" font-weight="bold" text-anchor="middle" textLength="11.85" lengthAdjust="spacingAndGlyphs">100</text>
<text x="103.10" y="385.70" font-size="8.99" fill="#111" stroke="#111" stroke-width="0.25" font-weight="bold" textLength="28.60" lengthAdjust="spacingAndGlyphs">THLE-2</text>
<text x="95.40" y="414.60" font-size="9.1" fill="#3a3a3a" stroke="#3a3a3a" stroke-width="0.15" textLength="68.40" lengthAdjust="spacingAndGlyphs">EC<tspan font-size="6.55" dy="0.94">50</tspan><tspan dy="-0.94">: &gt;100 µmol/L</tspan></text>
<text x="32.30" y="471.20" font-size="8.56" fill="#111" stroke="#111" stroke-width="0.25" font-weight="bold" textLength="57.00" lengthAdjust="spacingAndGlyphs" transform="rotate(-90 32.30 471.20)">% Cell viability</text>
<text x="56.40" y="518.50" font-size="8.45" fill="#111" stroke="#111" stroke-width="0.25" font-weight="bold" textLength="111.10" lengthAdjust="spacingAndGlyphs">THIO concentration (µmol/L)</text>
<polyline points="72.00,435.99 72.81,435.98 73.61,435.97 74.42,435.96 75.23,435.95 76.03,435.94 76.84,435.93 77.65,435.92 78.45,435.90 79.26,435.89 80.07,435.88 80.87,435.87 81.68,435.86 82.49,435.85 83.29,435.84 84.10,435.83 84.91,435.82 85.71,435.81 86.52,435.80 87.33,435.79 88.13,435.78 88.94,435.77 89.75,435.76 90.55,435.76 91.36,435.75 92.17,435.74 92.97,435.74 93.78,435.73 94.59,435.73 95.39,435.73 96.20,435.72 97.01,435.72 97.81,435.72 98.62,435.72 99.43,435.72 100.23,435.72 101.04,435.73 101.85,435.73 102.65,435.73 103.46,435.74 104.27,435.75 105.07,435.75 105.88,435.76 106.69,435.77 107.49,435.78 108.30,435.79 109.11,435.80 109.91,435.81 110.72,435.82 111.53,435.84 112.33,435.85 113.14,435.87 113.95,435.88 114.75,435.90 115.56,435.92 116.37,435.94 117.17,435.95 117.98,435.97 118.79,435.99 119.59,436.02 120.40,436.04 121.21,436.06 122.01,436.09 122.82,436.11 123.63,436.14 124.43,436.16 125.24,436.19 126.05,436.22 126.85,436.25 127.66,436.28 128.47,436.32 129.27,436.35 130.08,436.39 130.89,436.42 131.69,436.46 132.50,436.51 133.31,436.55 134.11,436.60 134.92,436.65 135.73,436.70 136.53,436.75 137.34,436.81 138.15,436.87 138.95,436.94 139.76,437.01 140.57,437.08 141.37,437.16 142.18,437.24 142.99,437.33 143.79,437.43 144.60,437.53 145.41,437.64 146.21,437.76 147.02,437.88 147.83,438.02 148.63,438.16 149.44,438.32 150.25,438.48 151.05,438.66 151.86,438.85 152.67,439.06 153.47,439.28 154.28,439.52 155.09,439.78 155.89,440.05 156.70,440.35 157.51,440.66 158.31,441.01 159.12,441.37 159.93,441.77 160.73,442.20 161.54,442.65 162.35,443.15 163.15,443.68 163.96,444.25 164.77,444.86 165.57,445.52 166.38,446.23 167.19,446.99 167.99,447.81 168.80,448.70" fill="none" stroke="#111" stroke-width="1.1"/>
<circle cx="72.00" cy="437.00" r="2.3" fill="#111"/>
<circle cx="83.25" cy="443.00" r="2.3" fill="#111"/>
<circle cx="88.00" cy="443.75" r="2.3" fill="#111"/>
<circle cx="92.50" cy="435.90" r="2.3" fill="#111"/>
<circle cx="95.00" cy="440.75" r="2.3" fill="#111"/>
<circle cx="99.50" cy="435.75" r="2.3" fill="#111"/>
<circle cx="110.50" cy="432.50" r="2.3" fill="#111"/>
<circle cx="111.25" cy="442.50" r="2.3" fill="#111"/>
<circle cx="117.50" cy="433.00" r="2.3" fill="#111"/>
<circle cx="129.25" cy="437.00" r="2.3" fill="#111"/>
<circle cx="130.50" cy="441.25" r="2.3" fill="#111"/>
<circle cx="145.50" cy="438.25" r="2.3" fill="#111"/>
<circle cx="148.75" cy="436.25" r="2.3" fill="#111"/>
<circle cx="152.00" cy="439.50" r="2.3" fill="#111"/>
<circle cx="157.00" cy="446.25" r="2.3" fill="#111"/>
<circle cx="163.75" cy="443.75" r="2.3" fill="#111"/>
<line x1="168.75" y1="449.25" x2="168.75" y2="453.75" stroke="#111" stroke-width="1.2"/>
<line x1="166.75" y1="453.75" x2="170.75" y2="453.75" stroke="#111" stroke-width="1.2"/>
<circle cx="168.75" cy="449.25" r="2.3" fill="#111"/>
<line x1="23.30" y1="579.35" x2="23.30" y2="662.75" stroke="#444" stroke-width="1.3"/>
<line x1="22.65" y1="662.10" x2="119.00" y2="662.10" stroke="#444" stroke-width="1.3"/>
<line x1="21.10" y1="662.10" x2="23.30" y2="662.10" stroke="#444" stroke-width="1.3"/>
<text x="19.30" y="664.75" font-size="6.93" fill="#222" stroke="#222" stroke-width="0.08" font-weight="bold" text-anchor="end" textLength="3.36" lengthAdjust="spacingAndGlyphs">0</text>
<line x1="21.10" y1="634.73" x2="23.30" y2="634.73" stroke="#444" stroke-width="1.3"/>
<text x="19.30" y="637.38" font-size="6.93" fill="#222" stroke="#222" stroke-width="0.08" font-weight="bold" text-anchor="end" textLength="6.73" lengthAdjust="spacingAndGlyphs">50</text>
<line x1="21.10" y1="607.37" x2="23.30" y2="607.37" stroke="#444" stroke-width="1.3"/>
<text x="19.30" y="610.01" font-size="6.93" fill="#222" stroke="#222" stroke-width="0.08" font-weight="bold" text-anchor="end" textLength="10.09" lengthAdjust="spacingAndGlyphs">100</text>
<line x1="21.10" y1="580.00" x2="23.30" y2="580.00" stroke="#444" stroke-width="1.3"/>
<text x="19.30" y="582.65" font-size="6.93" fill="#222" stroke="#222" stroke-width="0.08" font-weight="bold" text-anchor="end" textLength="10.09" lengthAdjust="spacingAndGlyphs">150</text>
<line x1="23.30" y1="662.10" x2="23.30" y2="664.30" stroke="#444" stroke-width="1.3"/>
<text x="23.30" y="671.70" font-size="6.82" fill="#222" stroke="#222" stroke-width="0.08" font-weight="bold" text-anchor="middle" textLength="11.58" lengthAdjust="spacingAndGlyphs">0.01</text>
<line x1="28.06" y1="662.10" x2="28.06" y2="663.42" stroke="#444" stroke-width="1.04"/>
<line x1="32.82" y1="662.10" x2="32.82" y2="663.42" stroke="#444" stroke-width="1.04"/>
<line x1="37.58" y1="662.10" x2="37.58" y2="663.42" stroke="#444" stroke-width="1.04"/>
<line x1="42.34" y1="662.10" x2="42.34" y2="663.42" stroke="#444" stroke-width="1.04"/>
<line x1="47.10" y1="662.10" x2="47.10" y2="664.30" stroke="#444" stroke-width="1.3"/>
<text x="47.10" y="671.70" font-size="6.82" fill="#222" stroke="#222" stroke-width="0.08" font-weight="bold" text-anchor="middle" textLength="8.27" lengthAdjust="spacingAndGlyphs">0.1</text>
<line x1="51.86" y1="662.10" x2="51.86" y2="663.42" stroke="#444" stroke-width="1.04"/>
<line x1="56.62" y1="662.10" x2="56.62" y2="663.42" stroke="#444" stroke-width="1.04"/>
<line x1="61.38" y1="662.10" x2="61.38" y2="663.42" stroke="#444" stroke-width="1.04"/>
<line x1="66.14" y1="662.10" x2="66.14" y2="663.42" stroke="#444" stroke-width="1.04"/>
<line x1="70.90" y1="662.10" x2="70.90" y2="664.30" stroke="#444" stroke-width="1.3"/>
<text x="70.90" y="671.70" font-size="6.82" fill="#222" stroke="#222" stroke-width="0.08" font-weight="bold" text-anchor="middle" textLength="3.31" lengthAdjust="spacingAndGlyphs">1</text>
<line x1="75.66" y1="662.10" x2="75.66" y2="663.42" stroke="#444" stroke-width="1.04"/>
<line x1="80.42" y1="662.10" x2="80.42" y2="663.42" stroke="#444" stroke-width="1.04"/>
<line x1="85.18" y1="662.10" x2="85.18" y2="663.42" stroke="#444" stroke-width="1.04"/>
<line x1="89.94" y1="662.10" x2="89.94" y2="663.42" stroke="#444" stroke-width="1.04"/>
<line x1="94.70" y1="662.10" x2="94.70" y2="664.30" stroke="#444" stroke-width="1.3"/>
<text x="94.70" y="671.70" font-size="6.82" fill="#222" stroke="#222" stroke-width="0.08" font-weight="bold" text-anchor="middle" textLength="6.62" lengthAdjust="spacingAndGlyphs">10</text>
<line x1="99.46" y1="662.10" x2="99.46" y2="663.42" stroke="#444" stroke-width="1.04"/>
<line x1="104.22" y1="662.10" x2="104.22" y2="663.42" stroke="#444" stroke-width="1.04"/>
<line x1="108.98" y1="662.10" x2="108.98" y2="663.42" stroke="#444" stroke-width="1.04"/>
<line x1="113.74" y1="662.10" x2="113.74" y2="663.42" stroke="#444" stroke-width="1.04"/>
<line x1="118.50" y1="662.10" x2="118.50" y2="664.30" stroke="#444" stroke-width="1.3"/>
<text x="118.50" y="671.70" font-size="6.82" fill="#222" stroke="#222" stroke-width="0.08" font-weight="bold" text-anchor="middle" textLength="9.93" lengthAdjust="spacingAndGlyphs">100</text>
<text x="48.50" y="574.30" font-size="7.49" fill="#333" stroke="#333" stroke-width="0.15" textLength="23.80" lengthAdjust="spacingAndGlyphs">Hep1C7</text>
<text x="49.50" y="586.30" font-size="8.99" fill="#222" stroke="#222" stroke-width="0.15" textLength="62.00" lengthAdjust="spacingAndGlyphs">EC<tspan font-size="6.47" dy="0.92">50</tspan><tspan dy="-0.92">: 1.6 µmol/L</tspan></text>
<text x="5.90" y="643.00" font-size="7.28" fill="#666" stroke="#666" stroke-width="0.15" textLength="44.00" lengthAdjust="spacingAndGlyphs" transform="rotate(-90 5.90 643.00)">% Cell viability</text>
<text x="32.00" y="681.80" font-size="7.28" fill="#333" stroke="#333" stroke-width="0.15" textLength="85.50" lengthAdjust="spacingAndGlyphs">THIO concentration (µmol/L)</text>
<path d="M47.30,613.10 C48.45,613.17 51.88,613.12 54.20,613.50 C56.52,613.88 58.88,614.45 61.20,615.40 C63.52,616.35 66.05,617.67 68.10,619.20 C70.15,620.73 71.97,622.55 73.50,624.60 C75.03,626.65 76.15,628.93 77.30,631.50 C78.45,634.07 79.37,637.17 80.40,640.00 C81.43,642.83 82.48,646.32 83.50,648.50 C84.52,650.68 85.22,652.08 86.50,653.10 C87.78,654.12 89.78,654.33 91.20,654.60 C92.62,654.87 90.40,654.68 95.00,654.70 C99.60,654.72 114.83,654.70 118.80,654.70" fill="none" stroke="#111" stroke-width="1.1"/>
<circle cx="47.30" cy="606.90" r="1.85" fill="#111"/>
<line x1="61.20" y1="615.80" x2="61.20" y2="623.80" stroke="#111" stroke-width="1.1"/>
<line x1="59.50" y1="623.80" x2="62.90" y2="623.80" stroke="#111" stroke-width="1.1"/>
<circle cx="61.20" cy="615.80" r="1.85" fill="#111"/>
<line x1="68.40" y1="622.30" x2="68.40" y2="629.20" stroke="#111" stroke-width="1.1"/>
<line x1="66.70" y1="629.20" x2="70.10" y2="629.20" stroke="#111" stroke-width="1.1"/>
<circle cx="68.40" cy="622.30" r="1.85" fill="#111"/>
<line x1="75.80" y1="630.00" x2="75.80" y2="636.90" stroke="#111" stroke-width="1.1"/>
<line x1="74.10" y1="636.90" x2="77.50" y2="636.90" stroke="#111" stroke-width="1.1"/>
<circle cx="75.80" cy="630.00" r="1.85" fill="#111"/>
<circle cx="82.70" cy="647.40" r="1.85" fill="#111"/>
<line x1="89.90" y1="651.50" x2="89.90" y2="653.80" stroke="#111" stroke-width="1.1"/>
<line x1="88.20" y1="653.80" x2="91.60" y2="653.80" stroke="#111" stroke-width="1.1"/>
<circle cx="89.90" cy="651.50" r="1.85" fill="#111"/>
<circle cx="97.30" cy="653.50" r="1.85" fill="#111"/>
<circle cx="104.70" cy="655.40" r="1.85" fill="#111"/>
<circle cx="111.60" cy="656.60" r="1.85" fill="#111"/>
<circle cx="119.20" cy="658.20" r="1.85" fill="#111"/>
<line x1="157.90" y1="577.05" x2="157.90" y2="662.75" stroke="#444" stroke-width="1.3"/>
<line x1="157.25" y1="662.10" x2="257.60" y2="662.10" stroke="#444" stroke-width="1.3"/>
<line x1="155.70" y1="662.10" x2="157.90" y2="662.10" stroke="#444" stroke-width="1.3"/>
<text x="153.90" y="664.75" font-size="6.93" fill="#222" stroke="#222" stroke-width="0.08" font-weight="bold" text-anchor="end" textLength="3.36" lengthAdjust="spacingAndGlyphs">0</text>
<line x1="155.70" y1="633.97" x2="157.90" y2="633.97" stroke="#444" stroke-width="1.3"/>
<text x="153.90" y="636.61" font-size="6.93" fill="#222" stroke="#222" stroke-width="0.08" font-weight="bold" text-anchor="end" textLength="6.73" lengthAdjust="spacingAndGlyphs">50</text>
<line x1="155.70" y1="605.83" x2="157.90" y2="605.83" stroke="#444" stroke-width="1.3"/>
<text x="153.90" y="608.48" font-size="6.93" fill="#222" stroke="#222" stroke-width="0.08" font-weight="bold" text-anchor="end" textLength="10.09" lengthAdjust="spacingAndGlyphs">100</text>
<line x1="155.70" y1="577.70" x2="157.90" y2="577.70" stroke="#444" stroke-width="1.3"/>
<text x="153.90" y="580.35" font-size="6.93" fill="#222" stroke="#222" stroke-width="0.08" font-weight="bold" text-anchor="end" textLength="10.09" lengthAdjust="spacingAndGlyphs">150</text>
<line x1="157.90" y1="662.10" x2="157.90" y2="664.30" stroke="#444" stroke-width="1.3"/>
<text x="157.90" y="671.70" font-size="6.82" fill="#222" stroke="#222" stroke-width="0.08" font-weight="bold" text-anchor="middle" textLength="11.58" lengthAdjust="spacingAndGlyphs">0.01</text>
<line x1="162.86" y1="662.10" x2="162.86" y2="663.42" stroke="#444" stroke-width="1.04"/>
<line x1="167.82" y1="662.10" x2="167.82" y2="663.42" stroke="#444" stroke-width="1.04"/>
<line x1="172.78" y1="662.10" x2="172.78" y2="663.42" stroke="#444" stroke-width="1.04"/>
<line x1="177.74" y1="662.10" x2="177.74" y2="663.42" stroke="#444" stroke-width="1.04"/>
<line x1="182.70" y1="662.10" x2="182.70" y2="664.30" stroke="#444" stroke-width="1.3"/>
<text x="182.70" y="671.70" font-size="6.82" fill="#222" stroke="#222" stroke-width="0.08" font-weight="bold" text-anchor="middle" textLength="8.27" lengthAdjust="spacingAndGlyphs">0.1</text>
<line x1="187.66" y1="662.10" x2="187.66" y2="663.42" stroke="#444" stroke-width="1.04"/>
<line x1="192.62" y1="662.10" x2="192.62" y2="663.42" stroke="#444" stroke-width="1.04"/>
<line x1="197.58" y1="662.10" x2="197.58" y2="663.42" stroke="#444" stroke-width="1.04"/>
<line x1="202.54" y1="662.10" x2="202.54" y2="663.42" stroke="#444" stroke-width="1.04"/>
<line x1="207.50" y1="662.10" x2="207.50" y2="664.30" stroke="#444" stroke-width="1.3"/>
<text x="207.50" y="671.70" font-size="6.82" fill="#222" stroke="#222" stroke-width="0.08" font-weight="bold" text-anchor="middle" textLength="3.31" lengthAdjust="spacingAndGlyphs">1</text>
<line x1="212.46" y1="662.10" x2="212.46" y2="663.42" stroke="#444" stroke-width="1.04"/>
<line x1="217.42" y1="662.10" x2="217.42" y2="663.42" stroke="#444" stroke-width="1.04"/>
<line x1="222.38" y1="662.10" x2="222.38" y2="663.42" stroke="#444" stroke-width="1.04"/>
<line x1="227.34" y1="662.10" x2="227.34" y2="663.42" stroke="#444" stroke-width="1.04"/>
<line x1="232.30" y1="662.10" x2="232.30" y2="664.30" stroke="#444" stroke-width="1.3"/>
<text x="232.30" y="671.70" font-size="6.82" fill="#222" stroke="#222" stroke-width="0.08" font-weight="bold" text-anchor="middle" textLength="6.62" lengthAdjust="spacingAndGlyphs">10</text>
<line x1="237.26" y1="662.10" x2="237.26" y2="663.42" stroke="#444" stroke-width="1.04"/>
<line x1="242.22" y1="662.10" x2="242.22" y2="663.42" stroke="#444" stroke-width="1.04"/>
<line x1="247.18" y1="662.10" x2="247.18" y2="663.42" stroke="#444" stroke-width="1.04"/>
<line x1="252.14" y1="662.10" x2="252.14" y2="663.42" stroke="#444" stroke-width="1.04"/>
<line x1="257.10" y1="662.10" x2="257.10" y2="664.30" stroke="#444" stroke-width="1.3"/>
<text x="257.10" y="671.70" font-size="6.82" fill="#222" stroke="#222" stroke-width="0.08" font-weight="bold" text-anchor="middle" textLength="9.93" lengthAdjust="spacingAndGlyphs">100</text>
<text x="193.80" y="574.30" font-size="7.49" fill="#333" stroke="#333" stroke-width="0.15" textLength="21.90" lengthAdjust="spacingAndGlyphs">RIL175</text>
<text x="186.20" y="586.30" font-size="8.99" fill="#222" stroke="#222" stroke-width="0.15" textLength="61.50" lengthAdjust="spacingAndGlyphs">EC<tspan font-size="6.47" dy="0.92">50</tspan><tspan dy="-0.92">: 2.3 µmol/L</tspan></text>
<text x="140.50" y="643.00" font-size="7.28" fill="#666" stroke="#666" stroke-width="0.15" textLength="44.00" lengthAdjust="spacingAndGlyphs" transform="rotate(-90 140.50 643.00)">% Cell viability</text>
<text x="166.00" y="681.80" font-size="7.28" fill="#333" stroke="#333" stroke-width="0.15" textLength="85.50" lengthAdjust="spacingAndGlyphs">THIO concentration (µmol/L)</text>
<path d="M183.40,614.90 C185.07,614.98 190.45,615.08 193.40,615.40 C196.35,615.72 198.67,615.98 201.10,616.80 C203.53,617.62 206.08,618.95 208.00,620.30 C209.92,621.65 211.18,622.85 212.60,624.90 C214.02,626.95 215.22,629.78 216.50,632.60 C217.78,635.42 219.02,638.60 220.30,641.80 C221.58,645.00 223.05,649.10 224.20,651.80 C225.35,654.50 226.05,656.58 227.20,658.00 C228.35,659.42 229.80,659.85 231.10,660.30 C232.40,660.75 230.65,660.62 235.00,660.70 C239.35,660.78 253.50,660.78 257.20,660.80" fill="none" stroke="#111" stroke-width="1.1"/>
<circle cx="182.60" cy="605.70" r="1.85" fill="#111"/>
<line x1="197.20" y1="621.10" x2="197.20" y2="627.20" stroke="#111" stroke-width="1.1"/>
<line x1="195.50" y1="627.20" x2="198.90" y2="627.20" stroke="#111" stroke-width="1.1"/>
<circle cx="197.20" cy="621.10" r="1.85" fill="#111"/>
<line x1="204.60" y1="623.40" x2="204.60" y2="630.30" stroke="#111" stroke-width="1.1"/>
<line x1="202.90" y1="630.30" x2="206.30" y2="630.30" stroke="#111" stroke-width="1.1"/>
<circle cx="204.60" cy="623.40" r="1.85" fill="#111"/>
<line x1="212.20" y1="626.90" x2="212.20" y2="633.10" stroke="#111" stroke-width="1.1"/>
<line x1="210.50" y1="633.10" x2="213.90" y2="633.10" stroke="#111" stroke-width="1.1"/>
<circle cx="212.20" cy="626.90" r="1.85" fill="#111"/>
<line x1="219.50" y1="640.80" x2="219.50" y2="646.90" stroke="#111" stroke-width="1.1"/>
<line x1="217.80" y1="646.90" x2="221.20" y2="646.90" stroke="#111" stroke-width="1.1"/>
<circle cx="219.50" cy="640.80" r="1.85" fill="#111"/>
<line x1="226.90" y1="656.20" x2="226.90" y2="658.00" stroke="#111" stroke-width="1.1"/>
<line x1="225.20" y1="658.00" x2="228.60" y2="658.00" stroke="#111" stroke-width="1.1"/>
<circle cx="226.90" cy="656.20" r="1.85" fill="#111"/>
<circle cx="234.60" cy="658.80" r="1.85" fill="#111"/>
<circle cx="241.80" cy="660.30" r="1.85" fill="#111"/>
<circle cx="249.20" cy="661.10" r="1.85" fill="#111"/>
<circle cx="256.50" cy="661.40" r="1.85" fill="#111"/>
<line x1="289.80" y1="579.35" x2="289.80" y2="662.75" stroke="#444" stroke-width="1.3"/>
<line x1="289.15" y1="662.10" x2="385.90" y2="662.10" stroke="#444" stroke-width="1.3"/>
<line x1="287.60" y1="662.10" x2="289.80" y2="662.10" stroke="#444" stroke-width="1.3"/>
<text x="285.80" y="664.75" font-size="6.93" fill="#222" stroke="#222" stroke-width="0.08" font-weight="bold" text-anchor="end" textLength="3.36" lengthAdjust="spacingAndGlyphs">0</text>
<line x1="287.60" y1="634.73" x2="289.80" y2="634.73" stroke="#444" stroke-width="1.3"/>
<text x="285.80" y="637.38" font-size="6.93" fill="#222" stroke="#222" stroke-width="0.08" font-weight="bold" text-anchor="end" textLength="6.73" lengthAdjust="spacingAndGlyphs">50</text>
<line x1="287.60" y1="607.37" x2="289.80" y2="607.37" stroke="#444" stroke-width="1.3"/>
<text x="285.80" y="610.01" font-size="6.93" fill="#222" stroke="#222" stroke-width="0.08" font-weight="bold" text-anchor="end" textLength="10.09" lengthAdjust="spacingAndGlyphs">100</text>
<line x1="287.60" y1="580.00" x2="289.80" y2="580.00" stroke="#444" stroke-width="1.3"/>
<text x="285.80" y="582.65" font-size="6.93" fill="#222" stroke="#222" stroke-width="0.08" font-weight="bold" text-anchor="end" textLength="10.09" lengthAdjust="spacingAndGlyphs">150</text>
<line x1="289.80" y1="662.10" x2="289.80" y2="664.30" stroke="#444" stroke-width="1.3"/>
<text x="289.80" y="671.70" font-size="6.82" fill="#222" stroke="#222" stroke-width="0.08" font-weight="bold" text-anchor="middle" textLength="11.58" lengthAdjust="spacingAndGlyphs">0.01</text>
<line x1="294.58" y1="662.10" x2="294.58" y2="663.42" stroke="#444" stroke-width="1.04"/>
<line x1="299.36" y1="662.10" x2="299.36" y2="663.42" stroke="#444" stroke-width="1.04"/>
<line x1="304.14" y1="662.10" x2="304.14" y2="663.42" stroke="#444" stroke-width="1.04"/>
<line x1="308.92" y1="662.10" x2="308.92" y2="663.42" stroke="#444" stroke-width="1.04"/>
<line x1="313.70" y1="662.10" x2="313.70" y2="664.30" stroke="#444" stroke-width="1.3"/>
<text x="313.70" y="671.70" font-size="6.82" fill="#222" stroke="#222" stroke-width="0.08" font-weight="bold" text-anchor="middle" textLength="8.27" lengthAdjust="spacingAndGlyphs">0.1</text>
<line x1="318.48" y1="662.10" x2="318.48" y2="663.42" stroke="#444" stroke-width="1.04"/>
<line x1="323.26" y1="662.10" x2="323.26" y2="663.42" stroke="#444" stroke-width="1.04"/>
<line x1="328.04" y1="662.10" x2="328.04" y2="663.42" stroke="#444" stroke-width="1.04"/>
<line x1="332.82" y1="662.10" x2="332.82" y2="663.42" stroke="#444" stroke-width="1.04"/>
<line x1="337.60" y1="662.10" x2="337.60" y2="664.30" stroke="#444" stroke-width="1.3"/>
<text x="337.60" y="671.70" font-size="6.82" fill="#222" stroke="#222" stroke-width="0.08" font-weight="bold" text-anchor="middle" textLength="3.31" lengthAdjust="spacingAndGlyphs">1</text>
<line x1="342.38" y1="662.10" x2="342.38" y2="663.42" stroke="#444" stroke-width="1.04"/>
<line x1="347.16" y1="662.10" x2="347.16" y2="663.42" stroke="#444" stroke-width="1.04"/>
<line x1="351.94" y1="662.10" x2="351.94" y2="663.42" stroke="#444" stroke-width="1.04"/>
<line x1="356.72" y1="662.10" x2="356.72" y2="663.42" stroke="#444" stroke-width="1.04"/>
<line x1="361.50" y1="662.10" x2="361.50" y2="664.30" stroke="#444" stroke-width="1.3"/>
<text x="361.50" y="671.70" font-size="6.82" fill="#222" stroke="#222" stroke-width="0.08" font-weight="bold" text-anchor="middle" textLength="6.62" lengthAdjust="spacingAndGlyphs">10</text>
<line x1="366.28" y1="662.10" x2="366.28" y2="663.42" stroke="#444" stroke-width="1.04"/>
<line x1="371.06" y1="662.10" x2="371.06" y2="663.42" stroke="#444" stroke-width="1.04"/>
<line x1="375.84" y1="662.10" x2="375.84" y2="663.42" stroke="#444" stroke-width="1.04"/>
<line x1="380.62" y1="662.10" x2="380.62" y2="663.42" stroke="#444" stroke-width="1.04"/>
<line x1="385.40" y1="662.10" x2="385.40" y2="664.30" stroke="#444" stroke-width="1.3"/>
<text x="385.40" y="671.70" font-size="6.82" fill="#222" stroke="#222" stroke-width="0.08" font-weight="bold" text-anchor="middle" textLength="9.93" lengthAdjust="spacingAndGlyphs">100</text>
<text x="326.20" y="574.30" font-size="7.49" fill="#333" stroke="#333" stroke-width="0.15" textLength="30.00" lengthAdjust="spacingAndGlyphs">Hep55-1C</text>
<text x="319.50" y="586.30" font-size="8.99" fill="#222" stroke="#222" stroke-width="0.15" textLength="62.00" lengthAdjust="spacingAndGlyphs">EC<tspan font-size="6.47" dy="0.92">50</tspan><tspan dy="-0.92">: 2.5 µmol/L</tspan></text>
<text x="272.40" y="643.00" font-size="7.28" fill="#666" stroke="#666" stroke-width="0.15" textLength="44.00" lengthAdjust="spacingAndGlyphs" transform="rotate(-90 272.40 643.00)">% Cell viability</text>
<text x="296.00" y="681.80" font-size="7.28" fill="#333" stroke="#333" stroke-width="0.15" textLength="86.50" lengthAdjust="spacingAndGlyphs">THIO concentration (µmol/L)</text>
<path d="M313.80,615.20 C315.47,615.28 320.58,615.37 323.80,615.70 C327.02,616.03 330.40,616.30 333.10,617.20 C335.80,618.10 337.95,619.43 340.00,621.10 C342.05,622.77 343.73,624.90 345.40,627.20 C347.07,629.50 348.47,632.20 350.00,634.90 C351.53,637.60 353.07,640.97 354.60,643.40 C356.13,645.83 357.67,648.15 359.20,649.50 C360.73,650.85 362.33,651.12 363.80,651.50 C365.27,651.88 364.40,651.75 368.00,651.80 C371.60,651.85 382.50,651.80 385.40,651.80" fill="none" stroke="#111" stroke-width="1.1"/>
<circle cx="313.40" cy="607.20" r="1.85" fill="#111"/>
<line x1="328.00" y1="614.90" x2="328.00" y2="622.60" stroke="#111" stroke-width="1.1"/>
<line x1="326.30" y1="622.60" x2="329.70" y2="622.60" stroke="#111" stroke-width="1.1"/>
<circle cx="328.00" cy="614.90" r="1.85" fill="#111"/>
<line x1="335.10" y1="618.80" x2="335.10" y2="628.00" stroke="#111" stroke-width="1.1"/>
<line x1="333.40" y1="628.00" x2="336.80" y2="628.00" stroke="#111" stroke-width="1.1"/>
<circle cx="335.10" cy="618.80" r="1.85" fill="#111"/>
<line x1="342.00" y1="631.10" x2="342.00" y2="639.20" stroke="#111" stroke-width="1.1"/>
<line x1="340.30" y1="639.20" x2="343.70" y2="639.20" stroke="#111" stroke-width="1.1"/>
<circle cx="342.00" cy="631.10" r="1.85" fill="#111"/>
<line x1="349.70" y1="637.20" x2="349.70" y2="644.20" stroke="#111" stroke-width="1.1"/>
<line x1="348.00" y1="644.20" x2="351.40" y2="644.20" stroke="#111" stroke-width="1.1"/>
<circle cx="349.70" cy="637.20" r="1.85" fill="#111"/>
<line x1="356.60" y1="639.20" x2="356.60" y2="644.20" stroke="#111" stroke-width="1.1"/>
<line x1="354.90" y1="644.20" x2="358.30" y2="644.20" stroke="#111" stroke-width="1.1"/>
<circle cx="356.60" cy="639.20" r="1.85" fill="#111"/>
<circle cx="363.80" cy="647.20" r="1.85" fill="#111"/>
<circle cx="371.10" cy="653.70" r="1.85" fill="#111"/>
<circle cx="378.00" cy="656.20" r="1.85" fill="#111"/>
<circle cx="385.40" cy="657.20" r="1.85" fill="#111"/>
<line x1="421.70" y1="579.35" x2="421.70" y2="662.75" stroke="#444" stroke-width="1.3"/>
<line x1="421.05" y1="662.10" x2="515.40" y2="662.10" stroke="#444" stroke-width="1.3"/>
<line x1="419.50" y1="662.10" x2="421.70" y2="662.10" stroke="#444" stroke-width="1.3"/>
<text x="417.70" y="664.75" font-size="6.93" fill="#222" stroke="#222" stroke-width="0.08" font-weight="bold" text-anchor="end" textLength="3.36" lengthAdjust="spacingAndGlyphs">0</text>
<line x1="419.50" y1="634.73" x2="421.70" y2="634.73" stroke="#444" stroke-width="1.3"/>
<text x="417.70" y="637.38" font-size="6.93" fill="#222" stroke="#222" stroke-width="0.08" font-weight="bold" text-anchor="end" textLength="6.73" lengthAdjust="spacingAndGlyphs">50</text>
<line x1="419.50" y1="607.37" x2="421.70" y2="607.37" stroke="#444" stroke-width="1.3"/>
<text x="417.70" y="610.01" font-size="6.93" fill="#222" stroke="#222" stroke-width="0.08" font-weight="bold" text-anchor="end" textLength="10.09" lengthAdjust="spacingAndGlyphs">100</text>
<line x1="419.50" y1="580.00" x2="421.70" y2="580.00" stroke="#444" stroke-width="1.3"/>
<text x="417.70" y="582.65" font-size="6.93" fill="#222" stroke="#222" stroke-width="0.08" font-weight="bold" text-anchor="end" textLength="10.09" lengthAdjust="spacingAndGlyphs">150</text>
<line x1="421.70" y1="662.10" x2="421.70" y2="664.30" stroke="#444" stroke-width="1.3"/>
<text x="421.70" y="671.70" font-size="6.82" fill="#222" stroke="#222" stroke-width="0.08" font-weight="bold" text-anchor="middle" textLength="11.58" lengthAdjust="spacingAndGlyphs">0.01</text>
<line x1="426.36" y1="662.10" x2="426.36" y2="663.42" stroke="#444" stroke-width="1.04"/>
<line x1="431.02" y1="662.10" x2="431.02" y2="663.42" stroke="#444" stroke-width="1.04"/>
<line x1="435.68" y1="662.10" x2="435.68" y2="663.42" stroke="#444" stroke-width="1.04"/>
<line x1="440.34" y1="662.10" x2="440.34" y2="663.42" stroke="#444" stroke-width="1.04"/>
<line x1="445.00" y1="662.10" x2="445.00" y2="664.30" stroke="#444" stroke-width="1.3"/>
<text x="445.00" y="671.70" font-size="6.82" fill="#222" stroke="#222" stroke-width="0.08" font-weight="bold" text-anchor="middle" textLength="8.27" lengthAdjust="spacingAndGlyphs">0.1</text>
<line x1="449.66" y1="662.10" x2="449.66" y2="663.42" stroke="#444" stroke-width="1.04"/>
<line x1="454.32" y1="662.10" x2="454.32" y2="663.42" stroke="#444" stroke-width="1.04"/>
<line x1="458.98" y1="662.10" x2="458.98" y2="663.42" stroke="#444" stroke-width="1.04"/>
<line x1="463.64" y1="662.10" x2="463.64" y2="663.42" stroke="#444" stroke-width="1.04"/>
<line x1="468.30" y1="662.10" x2="468.30" y2="664.30" stroke="#444" stroke-width="1.3"/>
<text x="468.30" y="671.70" font-size="6.82" fill="#222" stroke="#222" stroke-width="0.08" font-weight="bold" text-anchor="middle" textLength="3.31" lengthAdjust="spacingAndGlyphs">1</text>
<line x1="472.96" y1="662.10" x2="472.96" y2="663.42" stroke="#444" stroke-width="1.04"/>
<line x1="477.62" y1="662.10" x2="477.62" y2="663.42" stroke="#444" stroke-width="1.04"/>
<line x1="482.28" y1="662.10" x2="482.28" y2="663.42" stroke="#444" stroke-width="1.04"/>
<line x1="486.94" y1="662.10" x2="486.94" y2="663.42" stroke="#444" stroke-width="1.04"/>
<line x1="491.60" y1="662.10" x2="491.60" y2="664.30" stroke="#444" stroke-width="1.3"/>
<text x="491.60" y="671.70" font-size="6.82" fill="#222" stroke="#222" stroke-width="0.08" font-weight="bold" text-anchor="middle" textLength="6.62" lengthAdjust="spacingAndGlyphs">10</text>
<line x1="496.26" y1="662.10" x2="496.26" y2="663.42" stroke="#444" stroke-width="1.04"/>
<line x1="500.92" y1="662.10" x2="500.92" y2="663.42" stroke="#444" stroke-width="1.04"/>
<line x1="505.58" y1="662.10" x2="505.58" y2="663.42" stroke="#444" stroke-width="1.04"/>
<line x1="510.24" y1="662.10" x2="510.24" y2="663.42" stroke="#444" stroke-width="1.04"/>
<line x1="514.90" y1="662.10" x2="514.90" y2="664.30" stroke="#444" stroke-width="1.3"/>
<text x="514.90" y="671.70" font-size="6.82" fill="#222" stroke="#222" stroke-width="0.08" font-weight="bold" text-anchor="middle" textLength="9.93" lengthAdjust="spacingAndGlyphs">100</text>
<text x="456.20" y="574.30" font-size="7.49" fill="#333" stroke="#333" stroke-width="0.15" textLength="26.90" lengthAdjust="spacingAndGlyphs">HCC53N</text>
<text x="443.40" y="586.60" font-size="8.99" fill="#222" stroke="#222" stroke-width="0.15" textLength="62.00" lengthAdjust="spacingAndGlyphs">EC<tspan font-size="6.47" dy="0.92">50</tspan><tspan dy="-0.92">: 6.3 µmol/L</tspan></text>
<text x="404.30" y="643.00" font-size="7.28" fill="#666" stroke="#666" stroke-width="0.15" textLength="44.00" lengthAdjust="spacingAndGlyphs" transform="rotate(-90 404.30 643.00)">% Cell viability</text>
<text x="423.00" y="681.80" font-size="7.28" fill="#333" stroke="#333" stroke-width="0.15" textLength="87.30" lengthAdjust="spacingAndGlyphs">THIO concentration (µmol/L)</text>
<polyline points="445.00,607.30 445.58,607.30 446.15,607.30 446.73,607.30 447.31,607.30 447.88,607.30 448.46,607.30 449.04,607.30 449.61,607.30 450.19,607.30 450.77,607.30 451.34,607.30 451.92,607.30 452.50,607.30 453.07,607.30 453.65,607.30 454.23,607.30 454.80,607.30 455.38,607.30 455.96,607.30 456.53,607.30 457.11,607.30 457.69,607.30 458.26,607.30 458.84,607.30 459.42,607.30 459.99,607.30 460.57,607.30 461.15,607.30 461.72,607.30 462.30,607.30 462.88,607.30 463.45,607.30 464.03,607.30 464.61,607.30 465.18,607.30 465.76,607.30 466.34,607.30 466.91,607.30 467.49,607.30 468.07,607.30 468.64,607.30 469.22,607.30 469.80,607.30 470.37,607.30 470.95,607.30 471.53,607.30 472.10,607.30 472.68,607.30 473.26,607.30 473.83,607.30 474.41,607.30 474.99,607.30 475.56,607.30 476.14,607.30 476.72,607.30 477.29,607.30 477.87,607.30 478.45,607.30 479.02,607.30 479.60,607.30 480.18,607.30 480.75,607.30 481.33,607.30 481.91,607.30 482.48,607.30 483.06,607.31 483.64,607.33 484.21,607.39 484.79,607.64 485.37,608.50 485.94,611.34 486.52,619.15 487.10,632.93 487.67,645.13 488.25,650.89 488.83,652.81 489.40,653.38 489.98,653.54 490.56,653.58 491.13,653.60 491.71,653.60 492.29,653.60 492.86,653.60 493.44,653.60 494.02,653.60 494.59,653.60 495.17,653.60 495.75,653.60 496.32,653.60 496.90,653.60 497.48,653.60 498.05,653.60 498.63,653.60 499.21,653.60 499.78,653.60 500.36,653.60 500.94,653.60 501.51,653.60 502.09,653.60 502.67,653.60 503.24,653.60 503.82,653.60 504.40,653.60 504.97,653.60 505.55,653.60 506.13,653.60 506.70,653.60 507.28,653.60 507.86,653.60 508.43,653.60 509.01,653.60 509.59,653.60 510.16,653.60 510.74,653.60 511.32,653.60 511.89,653.60 512.47,653.60 513.05,653.60 513.62,653.60 514.20,653.60" fill="none" stroke="#111" stroke-width="1.1"/>
<circle cx="445.00" cy="607.30" r="1.85" fill="#111"/>
<circle cx="458.80" cy="606.60" r="1.85" fill="#111"/>
<circle cx="465.80" cy="607.30" r="1.85" fill="#111"/>
<circle cx="472.70" cy="605.20" r="1.85" fill="#111"/>
<line x1="479.80" y1="602.70" x2="479.80" y2="609.60" stroke="#111" stroke-width="1.1"/>
<line x1="478.10" y1="609.60" x2="481.50" y2="609.60" stroke="#111" stroke-width="1.1"/>
<circle cx="479.80" cy="602.70" r="1.85" fill="#111"/>
<line x1="486.50" y1="626.20" x2="486.50" y2="630.40" stroke="#111" stroke-width="1.1"/>
<line x1="484.80" y1="630.40" x2="488.20" y2="630.40" stroke="#111" stroke-width="1.1"/>
<circle cx="486.50" cy="626.20" r="1.85" fill="#111"/>
<circle cx="493.40" cy="647.80" r="1.85" fill="#111"/>
<circle cx="500.40" cy="653.30" r="1.85" fill="#111"/>
<circle cx="507.30" cy="656.10" r="1.85" fill="#111"/>
<circle cx="514.80" cy="657.30" r="1.85" fill="#111"/>
<text x="1.80" y="361.20" font-size="13" fill="#111" stroke="#111" stroke-width="0.25" font-weight="bold">B</text>
<text x="49.30" y="363.60" font-size="11.56" fill="#1a1a1a" stroke="#1a1a1a" stroke-width="0.3" textLength="126.10" lengthAdjust="spacingAndGlyphs">Human normal liver cells</text>
<line x1="48.80" y1="365.60" x2="175.80" y2="365.60" stroke="#444" stroke-width="1.2"/>
<text x="221.90" y="360.20" font-size="13.6" fill="#111" stroke="#111" stroke-width="0.25" font-weight="bold">C</text>
<text x="1.60" y="548.00" font-size="13" fill="#111" stroke="#111" stroke-width="0.25" font-weight="bold">D</text>
<text x="185.40" y="551.60" font-size="11.34" fill="#1a1a1a" stroke="#1a1a1a" stroke-width="0.3" textLength="122.30" lengthAdjust="spacingAndGlyphs">Murine liver cancer cells</text>
<line x1="166.50" y1="557.80" x2="321.00" y2="557.80" stroke="#8a8a8a" stroke-width="1.5"/>
<line x1="267.30" y1="380.80" x2="267.30" y2="490.10" stroke="#222" stroke-width="1.1"/>
<line x1="266.80" y1="489.60" x2="416.30" y2="489.60" stroke="#222" stroke-width="1.1"/>
<line x1="263.80" y1="489.60" x2="267.30" y2="489.60" stroke="#222" stroke-width="1.1"/>
<text x="261.50" y="493.20" font-size="9.02" fill="#111" stroke="#111" stroke-width="0.25" font-weight="bold" text-anchor="end" textLength="4.38" lengthAdjust="spacingAndGlyphs">0</text>
<line x1="263.80" y1="462.53" x2="267.30" y2="462.53" stroke="#222" stroke-width="1.1"/>
<text x="261.50" y="466.13" font-size="9.02" fill="#111" stroke="#111" stroke-width="0.25" font-weight="bold" text-anchor="end" textLength="13.13" lengthAdjust="spacingAndGlyphs">100</text>
<line x1="263.80" y1="435.45" x2="267.30" y2="435.45" stroke="#222" stroke-width="1.1"/>
<text x="261.50" y="439.05" font-size="9.02" fill="#111" stroke="#111" stroke-width="0.25" font-weight="bold" text-anchor="end" textLength="13.13" lengthAdjust="spacingAndGlyphs">200</text>
<line x1="263.80" y1="408.38" x2="267.30" y2="408.38" stroke="#222" stroke-width="1.1"/>
<text x="261.50" y="411.98" font-size="9.02" fill="#111" stroke="#111" stroke-width="0.25" font-weight="bold" text-anchor="end" textLength="13.13" lengthAdjust="spacingAndGlyphs">300</text>
<line x1="263.80" y1="381.30" x2="267.30" y2="381.30" stroke="#222" stroke-width="1.1"/>
<text x="261.50" y="384.90" font-size="9.02" fill="#111" stroke="#111" stroke-width="0.25" font-weight="bold" text-anchor="end" textLength="13.13" lengthAdjust="spacingAndGlyphs">400</text>
<text x="243.40" y="498.60" font-size="9.63" fill="#111" stroke="#111" stroke-width="0.25" font-weight="bold" textLength="125.00" lengthAdjust="spacingAndGlyphs" transform="rotate(-90 243.40 498.60)">Telomerase products per cell</text>
<line x1="280.80" y1="489.60" x2="280.80" y2="493.60" stroke="#222" stroke-width="1.1"/>
<text x="283.20" y="502.40" font-size="8.0" fill="#111" stroke="#111" stroke-width="0.25" font-weight="bold" text-anchor="end" transform="rotate(-45 283.20 502.40)">THLE-2</text>
<line x1="301.00" y1="489.60" x2="301.00" y2="493.60" stroke="#222" stroke-width="1.1"/>
<line x1="301.00" y1="484.59" x2="301.00" y2="482.97" stroke="#222" stroke-width="0.9"/>
<line x1="298.50" y1="482.97" x2="303.50" y2="482.97" stroke="#222" stroke-width="0.9"/>
<rect x="294.75" y="484.59" width="12.50" height="5.01" fill="#c8c8c8" stroke="#111" stroke-width="1.3"/>
<text x="303.40" y="502.40" font-size="8.0" fill="#111" stroke="#111" stroke-width="0.25" font-weight="bold" text-anchor="end" transform="rotate(-45 303.40 502.40)">Hep3B</text>
<line x1="321.20" y1="489.60" x2="321.20" y2="493.60" stroke="#222" stroke-width="1.1"/>
<line x1="321.20" y1="477.69" x2="321.20" y2="475.52" stroke="#222" stroke-width="0.9"/>
<line x1="318.70" y1="475.52" x2="323.70" y2="475.52" stroke="#222" stroke-width="0.9"/>
<rect x="314.95" y="477.69" width="12.50" height="11.91" fill="#8a8a8a" stroke="#111" stroke-width="1.3"/>
<text x="323.60" y="502.40" font-size="8.0" fill="#111" stroke="#111" stroke-width="0.25" font-weight="bold" text-anchor="end" transform="rotate(-45 323.60 502.40)">SNU-449</text>
<line x1="341.40" y1="489.60" x2="341.40" y2="493.60" stroke="#222" stroke-width="1.1"/>
<line x1="341.40" y1="472.27" x2="341.40" y2="471.73" stroke="#222" stroke-width="0.9"/>
<line x1="338.90" y1="471.73" x2="343.90" y2="471.73" stroke="#222" stroke-width="0.9"/>
<rect x="335.15" y="472.27" width="12.50" height="17.33" fill="#d8d8d8" stroke="#111" stroke-width="1.3"/>
<text x="343.80" y="502.40" font-size="8.0" fill="#111" stroke="#111" stroke-width="0.25" font-weight="bold" text-anchor="end" transform="rotate(-45 343.80 502.40)">HepG2</text>
<line x1="361.60" y1="489.60" x2="361.60" y2="493.60" stroke="#222" stroke-width="1.1"/>
<line x1="361.60" y1="398.36" x2="361.60" y2="397.82" stroke="#222" stroke-width="0.9"/>
<line x1="359.10" y1="397.82" x2="364.10" y2="397.82" stroke="#222" stroke-width="0.9"/>
<rect x="355.35" y="398.36" width="12.50" height="91.24" fill="#7a7a7a" stroke="#111" stroke-width="1.3"/>
<text x="364.00" y="502.40" font-size="8.0" fill="#111" stroke="#111" stroke-width="0.25" font-weight="bold" text-anchor="end" transform="rotate(-45 364.00 502.40)">Huh7</text>
<line x1="381.80" y1="489.60" x2="381.80" y2="493.60" stroke="#222" stroke-width="1.1"/>
<line x1="381.80" y1="486.35" x2="381.80" y2="485.81" stroke="#222" stroke-width="0.9"/>
<line x1="379.30" y1="485.81" x2="384.30" y2="485.81" stroke="#222" stroke-width="0.9"/>
<rect x="375.55" y="486.35" width="12.50" height="3.25" fill="#e4e4e4" stroke="#111" stroke-width="1.3"/>
<text x="384.20" y="502.40" font-size="8.0" fill="#111" stroke="#111" stroke-width="0.25" font-weight="bold" text-anchor="end" transform="rotate(-45 384.20 502.40)">SW39</text>
<line x1="402.00" y1="489.60" x2="402.00" y2="493.60" stroke="#222" stroke-width="1.1"/>
<text x="404.40" y="502.40" font-size="8.0" fill="#111" stroke="#111" stroke-width="0.25" font-weight="bold" text-anchor="end" transform="rotate(-45 404.40 502.40)">Blank</text>
<text x="372.00" y="454.60" font-size="8.56" fill="#3a3a3a" stroke="#3a3a3a" stroke-width="0.15" textLength="28.50" lengthAdjust="spacingAndGlyphs">Positive</text>
<text x="372.00" y="464.60" font-size="8.56" fill="#3a3a3a" stroke="#3a3a3a" stroke-width="0.15" textLength="24.30" lengthAdjust="spacingAndGlyphs">control</text>
<line x1="380.60" y1="469.40" x2="380.60" y2="483.60" stroke="#888" stroke-width="0.6"/>
<path d="M379.1,481 L380.6,484 L382.1,481" fill="none" stroke="#888" stroke-width="0.6"/>
</svg>
</body></html>
